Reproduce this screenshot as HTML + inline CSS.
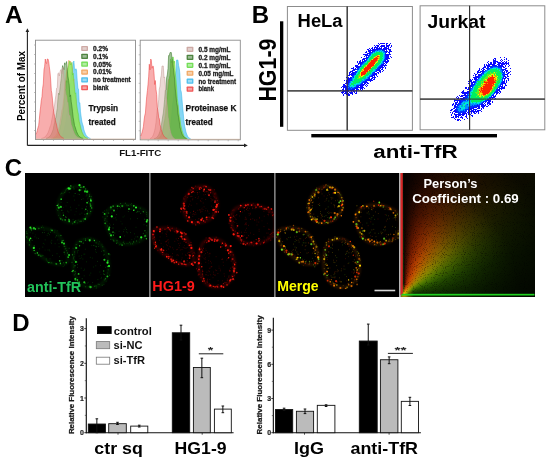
<!DOCTYPE html>
<html><head><meta charset="utf-8"><style>
html,body{margin:0;padding:0;background:#fff;}
body{width:550px;height:461px;overflow:hidden;position:relative;}
svg{position:absolute;left:0;top:0;font-family:"Liberation Sans", Arial, sans-serif;filter:blur(0.4px);}
</style></head><body>
<svg width="550" height="461" viewBox="0 0 550 461">
<defs><filter id="soft" x="0" y="0" width="1" height="1"><feGaussianBlur stdDeviation="0.35"/></filter><filter id="haze" x="-0.2" y="-0.2" width="1.4" height="1.4"><feGaussianBlur stdDeviation="1.2"/></filter><filter id="grain" x="0" y="0" width="1" height="1"><feTurbulence type="fractalNoise" baseFrequency="1.1" numOctaves="1" seed="4" result="n"/><feColorMatrix in="n" type="matrix" values="0 0 0 0 0  0 0 0 0 0  0 0 0 0 0  0 0 0 -1.8 0.85" result="m"/><feGaussianBlur in="m" stdDeviation="0.5"/><feComposite operator="in" in2="SourceGraphic"/></filter></defs>
<text x="5.0" y="22.8" font-size="24.6" fill="#000" font-weight="bold" text-anchor="start">A</text>
<line x1="27.4" y1="30.5" x2="27.4" y2="145.4" stroke="#222" stroke-width="1.1"/>
<path d="M25.6,32 L27.4,28.3 L29.2,32 Z" fill="#222"/>
<line x1="27.4" y1="145.4" x2="245.5" y2="145.4" stroke="#222" stroke-width="1.1"/>
<path d="M244,143.6 L247.8,145.4 L244,147.2 Z" fill="#222"/>
<text transform="translate(24.7,86) rotate(-90)" font-size="10.2" fill="#000" font-weight="bold" text-anchor="middle" textLength="70" lengthAdjust="spacingAndGlyphs">Percent of Max</text>
<text x="119.2" y="155.6" font-size="9" fill="#111" font-weight="bold" text-anchor="start" textLength="42" lengthAdjust="spacingAndGlyphs">FL1-FITC</text>
<rect x="35.5" y="40.2" width="100" height="99.3" fill="#fff" stroke="#8c8c8c" stroke-width="0.9"/>
<line x1="34.0" y1="130.5" x2="35.5" y2="130.5" stroke="#999" stroke-width="0.6"/>
<line x1="34.0" y1="121.0" x2="35.5" y2="121.0" stroke="#999" stroke-width="0.6"/>
<line x1="34.0" y1="111.5" x2="35.5" y2="111.5" stroke="#999" stroke-width="0.6"/>
<line x1="34.0" y1="102.0" x2="35.5" y2="102.0" stroke="#999" stroke-width="0.6"/>
<line x1="34.0" y1="92.5" x2="35.5" y2="92.5" stroke="#999" stroke-width="0.6"/>
<line x1="34.0" y1="83.0" x2="35.5" y2="83.0" stroke="#999" stroke-width="0.6"/>
<line x1="34.0" y1="73.5" x2="35.5" y2="73.5" stroke="#999" stroke-width="0.6"/>
<line x1="34.0" y1="64.0" x2="35.5" y2="64.0" stroke="#999" stroke-width="0.6"/>
<line x1="34.0" y1="54.5" x2="35.5" y2="54.5" stroke="#999" stroke-width="0.6"/>
<line x1="34.0" y1="45.0" x2="35.5" y2="45.0" stroke="#999" stroke-width="0.6"/>
<line x1="43.5" y1="139.5" x2="43.5" y2="141.0" stroke="#999" stroke-width="0.6"/>
<line x1="53.5" y1="139.5" x2="53.5" y2="141.0" stroke="#999" stroke-width="0.6"/>
<line x1="63.5" y1="139.5" x2="63.5" y2="141.0" stroke="#999" stroke-width="0.6"/>
<line x1="73.5" y1="139.5" x2="73.5" y2="141.0" stroke="#999" stroke-width="0.6"/>
<line x1="83.5" y1="139.5" x2="83.5" y2="141.0" stroke="#999" stroke-width="0.6"/>
<line x1="93.5" y1="139.5" x2="93.5" y2="141.0" stroke="#999" stroke-width="0.6"/>
<line x1="103.5" y1="139.5" x2="103.5" y2="141.0" stroke="#999" stroke-width="0.6"/>
<line x1="113.5" y1="139.5" x2="113.5" y2="141.0" stroke="#999" stroke-width="0.6"/>
<line x1="123.5" y1="139.5" x2="123.5" y2="141.0" stroke="#999" stroke-width="0.6"/>
<line x1="133.5" y1="139.5" x2="133.5" y2="141.0" stroke="#999" stroke-width="0.6"/>
<path d="M58.6,138.7 L58.6,138.2 L59.3,138.0 L59.9,137.7 L60.6,137.2 L61.2,136.5 L61.9,135.5 L62.6,134.2 L63.2,132.5 L63.9,130.3 L64.6,127.6 L65.2,124.7 L65.9,121.4 L66.6,114.7 L67.2,112.4 L67.9,103.6 L68.6,98.5 L69.2,94.9 L69.9,83.8 L70.6,83.1 L71.2,72.4 L71.9,72.9 L72.5,69.3 L73.2,62.4 L73.9,61.0 L74.5,68.8 L75.2,70.2 L75.9,68.7 L76.5,69.8 L77.2,80.3 L77.9,88.3 L78.5,89.0 L79.2,103.0 L79.9,102.8 L80.5,111.8 L81.2,117.1 L81.8,121.2 L82.5,124.1 L83.2,126.0 L83.8,129.4 L84.5,131.6 L85.2,133.3 L85.8,134.7 L86.5,135.8 L87.2,136.6 L87.8,137.2 L88.5,137.6 L89.2,138.0 L89.8,138.2 L90.5,138.4 L90.5,138.7 Z" fill="#5cc8f0" fill-opacity="0.75"/>
<path d="M58.6,138.2 L59.3,138.0 L59.9,137.7 L60.6,137.2 L61.2,136.5 L61.9,135.5 L62.6,134.2 L63.2,132.5 L63.9,130.3 L64.6,127.6 L65.2,124.7 L65.9,121.4 L66.6,114.7 L67.2,112.4 L67.9,103.6 L68.6,98.5 L69.2,94.9 L69.9,83.8 L70.6,83.1 L71.2,72.4 L71.9,72.9 L72.5,69.3 L73.2,62.4 L73.9,61.0 L74.5,68.8 L75.2,70.2 L75.9,68.7 L76.5,69.8 L77.2,80.3 L77.9,88.3 L78.5,89.0 L79.2,103.0 L79.9,102.8 L80.5,111.8 L81.2,117.1 L81.8,121.2 L82.5,124.1 L83.2,126.0 L83.8,129.4 L84.5,131.6 L85.2,133.3 L85.8,134.7 L86.5,135.8 L87.2,136.6 L87.8,137.2 L88.5,137.6 L89.2,138.0 L89.8,138.2 L90.5,138.4" fill="none" stroke="#2fb4ea" stroke-width="0.6" stroke-opacity="0.85"/>
<path d="M51.3,138.7 L51.3,138.4 L51.9,138.2 L52.6,138.0 L53.3,137.7 L53.9,137.3 L54.6,136.8 L55.3,136.1 L55.9,135.2 L56.6,134.0 L57.3,132.5 L57.9,130.8 L58.6,128.6 L59.3,126.8 L59.9,122.6 L60.6,118.7 L61.2,115.8 L61.9,110.4 L62.6,108.5 L63.2,103.7 L63.9,97.3 L64.6,87.1 L65.2,84.0 L65.9,80.0 L66.6,71.5 L67.2,68.9 L67.9,67.6 L68.6,60.5 L69.2,60.5 L69.9,64.8 L70.6,61.2 L71.2,64.7 L71.9,63.6 L72.5,70.4 L73.2,81.1 L73.9,78.9 L74.5,93.6 L75.2,96.3 L75.9,99.2 L76.5,108.7 L77.2,111.5 L77.9,118.0 L78.5,119.3 L79.2,122.6 L79.9,126.2 L80.5,128.9 L81.2,131.1 L81.8,132.8 L82.5,134.2 L83.2,135.3 L83.8,136.2 L84.5,136.8 L85.2,137.4 L85.8,137.7 L86.5,138.0 L87.2,138.2 L87.8,138.4 L87.8,138.7 Z" fill="#f6b070" fill-opacity="0.55"/>
<path d="M51.3,138.4 L51.9,138.2 L52.6,138.0 L53.3,137.7 L53.9,137.3 L54.6,136.8 L55.3,136.1 L55.9,135.2 L56.6,134.0 L57.3,132.5 L57.9,130.8 L58.6,128.6 L59.3,126.8 L59.9,122.6 L60.6,118.7 L61.2,115.8 L61.9,110.4 L62.6,108.5 L63.2,103.7 L63.9,97.3 L64.6,87.1 L65.2,84.0 L65.9,80.0 L66.6,71.5 L67.2,68.9 L67.9,67.6 L68.6,60.5 L69.2,60.5 L69.9,64.8 L70.6,61.2 L71.2,64.7 L71.9,63.6 L72.5,70.4 L73.2,81.1 L73.9,78.9 L74.5,93.6 L75.2,96.3 L75.9,99.2 L76.5,108.7 L77.2,111.5 L77.9,118.0 L78.5,119.3 L79.2,122.6 L79.9,126.2 L80.5,128.9 L81.2,131.1 L81.8,132.8 L82.5,134.2 L83.2,135.3 L83.8,136.2 L84.5,136.8 L85.2,137.4 L85.8,137.7 L86.5,138.0 L87.2,138.2 L87.8,138.4" fill="none" stroke="#f09a4a" stroke-width="0.6" stroke-opacity="0.85"/>
<path d="M53.3,138.7 L53.3,138.3 L53.9,138.1 L54.6,137.8 L55.3,137.5 L55.9,137.0 L56.6,136.3 L57.3,135.5 L57.9,134.4 L58.6,133.0 L59.3,131.2 L59.9,129.0 L60.6,125.5 L61.2,123.8 L61.9,118.9 L62.6,115.0 L63.2,110.3 L63.9,105.9 L64.6,97.4 L65.2,90.3 L65.9,88.6 L66.6,80.6 L67.2,82.4 L67.9,69.2 L68.6,65.6 L69.2,61.5 L69.9,61.5 L70.6,64.8 L71.2,64.2 L71.9,62.3 L72.5,75.0 L73.2,73.2 L73.9,81.8 L74.5,87.6 L75.2,93.6 L75.9,92.8 L76.5,103.7 L77.2,108.0 L77.9,112.1 L78.5,114.4 L79.2,121.7 L79.9,123.9 L80.5,126.7 L81.2,129.4 L81.8,131.5 L82.5,133.2 L83.2,134.6 L83.8,135.6 L84.5,136.5 L85.2,137.1 L85.8,137.5 L86.5,137.9 L87.2,138.1 L87.8,138.3 L87.8,138.7 Z" fill="#7cf050" fill-opacity="0.7"/>
<path d="M53.3,138.3 L53.9,138.1 L54.6,137.8 L55.3,137.5 L55.9,137.0 L56.6,136.3 L57.3,135.5 L57.9,134.4 L58.6,133.0 L59.3,131.2 L59.9,129.0 L60.6,125.5 L61.2,123.8 L61.9,118.9 L62.6,115.0 L63.2,110.3 L63.9,105.9 L64.6,97.4 L65.2,90.3 L65.9,88.6 L66.6,80.6 L67.2,82.4 L67.9,69.2 L68.6,65.6 L69.2,61.5 L69.9,61.5 L70.6,64.8 L71.2,64.2 L71.9,62.3 L72.5,75.0 L73.2,73.2 L73.9,81.8 L74.5,87.6 L75.2,93.6 L75.9,92.8 L76.5,103.7 L77.2,108.0 L77.9,112.1 L78.5,114.4 L79.2,121.7 L79.9,123.9 L80.5,126.7 L81.2,129.4 L81.8,131.5 L82.5,133.2 L83.2,134.6 L83.8,135.6 L84.5,136.5 L85.2,137.1 L85.8,137.5 L86.5,137.9 L87.2,138.1 L87.8,138.3" fill="none" stroke="#5ad83a" stroke-width="0.6" stroke-opacity="0.85"/>
<path d="M46.0,138.7 L46.0,138.3 L46.6,138.2 L47.3,138.0 L48.0,137.7 L48.6,137.3 L49.3,136.8 L50.0,136.1 L50.6,135.3 L51.3,134.2 L51.9,132.8 L52.6,131.1 L53.3,129.1 L53.9,125.7 L54.6,122.7 L55.3,119.0 L55.9,117.5 L56.6,112.6 L57.3,108.3 L57.9,99.5 L58.6,93.1 L59.3,94.7 L59.9,89.3 L60.6,83.6 L61.2,78.7 L61.9,71.0 L62.6,65.6 L63.2,67.5 L63.9,69.7 L64.6,62.8 L65.2,64.4 L65.9,63.5 L66.6,61.5 L67.2,69.1 L67.9,76.2 L68.6,80.2 L69.2,85.2 L69.9,96.7 L70.6,94.9 L71.2,101.5 L71.9,106.2 L72.5,111.6 L73.2,117.8 L73.9,121.4 L74.5,125.5 L75.2,127.2 L75.9,129.5 L76.5,131.5 L77.2,133.1 L77.9,134.4 L78.5,135.5 L79.2,136.3 L79.9,136.9 L80.5,137.4 L81.2,137.8 L81.8,138.0 L82.5,138.2 L83.2,138.4 L83.2,138.7 Z" fill="#4f8f3a" fill-opacity="0.5"/>
<path d="M46.0,138.3 L46.6,138.2 L47.3,138.0 L48.0,137.7 L48.6,137.3 L49.3,136.8 L50.0,136.1 L50.6,135.3 L51.3,134.2 L51.9,132.8 L52.6,131.1 L53.3,129.1 L53.9,125.7 L54.6,122.7 L55.3,119.0 L55.9,117.5 L56.6,112.6 L57.3,108.3 L57.9,99.5 L58.6,93.1 L59.3,94.7 L59.9,89.3 L60.6,83.6 L61.2,78.7 L61.9,71.0 L62.6,65.6 L63.2,67.5 L63.9,69.7 L64.6,62.8 L65.2,64.4 L65.9,63.5 L66.6,61.5 L67.2,69.1 L67.9,76.2 L68.6,80.2 L69.2,85.2 L69.9,96.7 L70.6,94.9 L71.2,101.5 L71.9,106.2 L72.5,111.6 L73.2,117.8 L73.9,121.4 L74.5,125.5 L75.2,127.2 L75.9,129.5 L76.5,131.5 L77.2,133.1 L77.9,134.4 L78.5,135.5 L79.2,136.3 L79.9,136.9 L80.5,137.4 L81.2,137.8 L81.8,138.0 L82.5,138.2 L83.2,138.4" fill="none" stroke="#2f6f1e" stroke-width="0.6" stroke-opacity="0.85"/>
<path d="M41.3,138.7 L41.3,138.4 L42.0,138.3 L42.6,138.1 L43.3,137.9 L44.0,137.6 L44.6,137.2 L45.3,136.6 L46.0,136.0 L46.6,135.1 L47.3,134.1 L48.0,132.8 L48.6,131.2 L49.3,129.4 L50.0,126.8 L50.6,125.8 L51.3,123.1 L51.9,119.4 L52.6,116.1 L53.3,111.3 L53.9,108.9 L54.6,105.0 L55.3,99.4 L55.9,95.4 L56.6,88.2 L57.3,87.6 L57.9,73.5 L58.6,72.9 L59.3,76.0 L59.9,72.5 L60.6,69.9 L61.2,69.5 L61.9,73.9 L62.6,67.5 L63.2,67.5 L63.9,77.5 L64.6,81.3 L65.2,90.0 L65.9,94.2 L66.6,96.6 L67.2,101.9 L67.9,102.6 L68.6,111.3 L69.2,115.9 L69.9,115.4 L70.6,120.7 L71.2,124.9 L71.9,126.4 L72.5,128.8 L73.2,130.8 L73.9,132.4 L74.5,133.8 L75.2,134.9 L75.9,135.8 L76.5,136.5 L77.2,137.0 L77.9,137.5 L78.5,137.8 L79.2,138.0 L79.9,138.2 L80.5,138.4 L80.5,138.7 Z" fill="#d8b4ae" fill-opacity="0.5"/>
<path d="M41.3,138.4 L42.0,138.3 L42.6,138.1 L43.3,137.9 L44.0,137.6 L44.6,137.2 L45.3,136.6 L46.0,136.0 L46.6,135.1 L47.3,134.1 L48.0,132.8 L48.6,131.2 L49.3,129.4 L50.0,126.8 L50.6,125.8 L51.3,123.1 L51.9,119.4 L52.6,116.1 L53.3,111.3 L53.9,108.9 L54.6,105.0 L55.3,99.4 L55.9,95.4 L56.6,88.2 L57.3,87.6 L57.9,73.5 L58.6,72.9 L59.3,76.0 L59.9,72.5 L60.6,69.9 L61.2,69.5 L61.9,73.9 L62.6,67.5 L63.2,67.5 L63.9,77.5 L64.6,81.3 L65.2,90.0 L65.9,94.2 L66.6,96.6 L67.2,101.9 L67.9,102.6 L68.6,111.3 L69.2,115.9 L69.9,115.4 L70.6,120.7 L71.2,124.9 L71.9,126.4 L72.5,128.8 L73.2,130.8 L73.9,132.4 L74.5,133.8 L75.2,134.9 L75.9,135.8 L76.5,136.5 L77.2,137.0 L77.9,137.5 L78.5,137.8 L79.2,138.0 L79.9,138.2 L80.5,138.4" fill="none" stroke="#c49a94" stroke-width="0.6" stroke-opacity="0.85"/>
<path d="M36.0,138.7 L36.0,134.4 L36.7,132.7 L37.3,130.4 L38.0,127.5 L38.7,125.3 L39.3,119.4 L40.0,111.9 L40.7,106.1 L41.3,100.2 L42.0,96.7 L42.6,88.6 L43.3,83.9 L44.0,69.6 L44.6,66.8 L45.3,59.0 L46.0,62.5 L46.6,63.5 L47.3,59.0 L48.0,59.0 L48.6,61.2 L49.3,66.7 L50.0,72.1 L50.6,79.1 L51.3,90.6 L51.9,93.7 L52.6,100.9 L53.3,108.5 L53.9,113.2 L54.6,116.3 L55.3,120.4 L55.9,122.5 L56.6,125.1 L57.3,128.9 L57.9,131.1 L58.6,132.9 L59.3,134.3 L59.9,135.4 L60.6,136.3 L61.2,136.9 L61.9,137.4 L62.6,137.8 L63.2,138.1 L63.9,138.3 L63.9,138.7 Z" fill="#f26a6a" fill-opacity="0.55"/>
<path d="M36.0,134.4 L36.7,132.7 L37.3,130.4 L38.0,127.5 L38.7,125.3 L39.3,119.4 L40.0,111.9 L40.7,106.1 L41.3,100.2 L42.0,96.7 L42.6,88.6 L43.3,83.9 L44.0,69.6 L44.6,66.8 L45.3,59.0 L46.0,62.5 L46.6,63.5 L47.3,59.0 L48.0,59.0 L48.6,61.2 L49.3,66.7 L50.0,72.1 L50.6,79.1 L51.3,90.6 L51.9,93.7 L52.6,100.9 L53.3,108.5 L53.9,113.2 L54.6,116.3 L55.3,120.4 L55.9,122.5 L56.6,125.1 L57.3,128.9 L57.9,131.1 L58.6,132.9 L59.3,134.3 L59.9,135.4 L60.6,136.3 L61.2,136.9 L61.9,137.4 L62.6,137.8 L63.2,138.1 L63.9,138.3" fill="none" stroke="#ee3b3b" stroke-width="0.6" stroke-opacity="0.85"/>
<line x1="36.0" y1="139.0" x2="135.0" y2="139.0" stroke="#c8a890" stroke-width="0.6"/>
<rect x="81.2" y="45.9" width="6.8" height="5.2" fill="#c49a94" rx="0.8" fill-opacity="0.85"/>
<rect x="82.5" y="47.2" width="4.2" height="2.6" fill="#fff" fill-opacity="0.45"/>
<text x="93.10000000000001" y="50.8" font-size="6.3" fill="#1e1e1e" font-weight="bold" text-anchor="start" textLength="15" lengthAdjust="spacingAndGlyphs" stroke="#1e1e1e" stroke-width="0.3">0.2%</text>
<rect x="81.2" y="53.75" width="6.8" height="5.2" fill="#2f6f1e" rx="0.8" fill-opacity="0.85"/>
<rect x="82.5" y="55.050000000000004" width="4.2" height="2.6" fill="#fff" fill-opacity="0.45"/>
<text x="93.10000000000001" y="58.65" font-size="6.3" fill="#1e1e1e" font-weight="bold" text-anchor="start" textLength="15" lengthAdjust="spacingAndGlyphs" stroke="#1e1e1e" stroke-width="0.3">0.1%</text>
<rect x="81.2" y="61.6" width="6.8" height="5.2" fill="#5ad83a" rx="0.8" fill-opacity="0.85"/>
<rect x="82.5" y="62.900000000000006" width="4.2" height="2.6" fill="#fff" fill-opacity="0.45"/>
<text x="93.10000000000001" y="66.5" font-size="6.3" fill="#1e1e1e" font-weight="bold" text-anchor="start" textLength="18.5" lengthAdjust="spacingAndGlyphs" stroke="#1e1e1e" stroke-width="0.3">0.05%</text>
<rect x="81.2" y="69.45" width="6.8" height="5.2" fill="#f09a4a" rx="0.8" fill-opacity="0.85"/>
<rect x="82.5" y="70.75" width="4.2" height="2.6" fill="#fff" fill-opacity="0.45"/>
<text x="93.10000000000001" y="74.35" font-size="6.3" fill="#1e1e1e" font-weight="bold" text-anchor="start" textLength="18.5" lengthAdjust="spacingAndGlyphs" stroke="#1e1e1e" stroke-width="0.3">0.01%</text>
<rect x="81.2" y="77.30000000000001" width="6.8" height="5.2" fill="#2fb4ea" rx="0.8" fill-opacity="0.85"/>
<rect x="82.5" y="78.60000000000001" width="4.2" height="2.6" fill="#fff" fill-opacity="0.45"/>
<text x="93.10000000000001" y="82.2" font-size="6.3" fill="#1e1e1e" font-weight="bold" text-anchor="start" textLength="37.5" lengthAdjust="spacingAndGlyphs" stroke="#1e1e1e" stroke-width="0.3">no treatment</text>
<rect x="81.2" y="85.15" width="6.8" height="5.2" fill="#ee3b3b" rx="0.8" fill-opacity="0.85"/>
<rect x="82.5" y="86.45" width="4.2" height="2.6" fill="#fff" fill-opacity="0.45"/>
<text x="93.10000000000001" y="90.05" font-size="6.3" fill="#1e1e1e" font-weight="bold" text-anchor="start" textLength="15.5" lengthAdjust="spacingAndGlyphs" stroke="#1e1e1e" stroke-width="0.3">blank</text>
<text x="88.6" y="111.0" font-size="8.9" fill="#111" font-weight="bold" text-anchor="start" textLength="29.5" lengthAdjust="spacingAndGlyphs" stroke="#111" stroke-width="0.25">Trypsin</text>
<text x="88.6" y="125.1" font-size="8.9" fill="#111" font-weight="bold" text-anchor="start" textLength="27" lengthAdjust="spacingAndGlyphs" stroke="#111" stroke-width="0.25">treated</text>
<rect x="140.2" y="40.2" width="100.1" height="99.6" fill="#fff" stroke="#8c8c8c" stroke-width="0.9"/>
<line x1="138.7" y1="130.8" x2="140.2" y2="130.8" stroke="#999" stroke-width="0.6"/>
<line x1="138.7" y1="121.30000000000001" x2="140.2" y2="121.30000000000001" stroke="#999" stroke-width="0.6"/>
<line x1="138.7" y1="111.80000000000001" x2="140.2" y2="111.80000000000001" stroke="#999" stroke-width="0.6"/>
<line x1="138.7" y1="102.30000000000001" x2="140.2" y2="102.30000000000001" stroke="#999" stroke-width="0.6"/>
<line x1="138.7" y1="92.80000000000001" x2="140.2" y2="92.80000000000001" stroke="#999" stroke-width="0.6"/>
<line x1="138.7" y1="83.30000000000001" x2="140.2" y2="83.30000000000001" stroke="#999" stroke-width="0.6"/>
<line x1="138.7" y1="73.80000000000001" x2="140.2" y2="73.80000000000001" stroke="#999" stroke-width="0.6"/>
<line x1="138.7" y1="64.30000000000001" x2="140.2" y2="64.30000000000001" stroke="#999" stroke-width="0.6"/>
<line x1="138.7" y1="54.80000000000001" x2="140.2" y2="54.80000000000001" stroke="#999" stroke-width="0.6"/>
<line x1="138.7" y1="45.30000000000001" x2="140.2" y2="45.30000000000001" stroke="#999" stroke-width="0.6"/>
<line x1="148.2" y1="139.8" x2="148.2" y2="141.3" stroke="#999" stroke-width="0.6"/>
<line x1="158.2" y1="139.8" x2="158.2" y2="141.3" stroke="#999" stroke-width="0.6"/>
<line x1="168.2" y1="139.8" x2="168.2" y2="141.3" stroke="#999" stroke-width="0.6"/>
<line x1="178.2" y1="139.8" x2="178.2" y2="141.3" stroke="#999" stroke-width="0.6"/>
<line x1="188.2" y1="139.8" x2="188.2" y2="141.3" stroke="#999" stroke-width="0.6"/>
<line x1="198.2" y1="139.8" x2="198.2" y2="141.3" stroke="#999" stroke-width="0.6"/>
<line x1="208.2" y1="139.8" x2="208.2" y2="141.3" stroke="#999" stroke-width="0.6"/>
<line x1="218.2" y1="139.8" x2="218.2" y2="141.3" stroke="#999" stroke-width="0.6"/>
<line x1="228.2" y1="139.8" x2="228.2" y2="141.3" stroke="#999" stroke-width="0.6"/>
<line x1="238.2" y1="139.8" x2="238.2" y2="141.3" stroke="#999" stroke-width="0.6"/>
<path d="M165.3,139.0 L165.3,138.7 L166.0,138.4 L166.6,138.0 L167.3,137.3 L168.0,136.3 L168.6,134.8 L169.3,132.6 L170.0,129.6 L170.6,125.8 L171.3,119.0 L172.0,112.0 L172.6,104.2 L173.3,99.9 L174.0,92.8 L174.6,84.5 L175.3,77.2 L176.0,70.8 L176.6,60.0 L177.3,60.0 L177.9,60.0 L178.6,65.4 L179.3,68.6 L179.9,74.0 L180.6,89.8 L181.3,91.9 L181.9,98.1 L182.6,106.7 L183.3,113.8 L183.9,120.6 L184.6,126.1 L185.3,128.9 L185.9,131.8 L186.6,134.0 L187.3,135.6 L187.9,136.8 L188.6,137.5 L189.3,138.1 L189.9,138.4 L190.6,138.7 L190.6,139.0 Z" fill="#5cc8f0" fill-opacity="0.75"/>
<path d="M165.3,138.7 L166.0,138.4 L166.6,138.0 L167.3,137.3 L168.0,136.3 L168.6,134.8 L169.3,132.6 L170.0,129.6 L170.6,125.8 L171.3,119.0 L172.0,112.0 L172.6,104.2 L173.3,99.9 L174.0,92.8 L174.6,84.5 L175.3,77.2 L176.0,70.8 L176.6,60.0 L177.3,60.0 L177.9,60.0 L178.6,65.4 L179.3,68.6 L179.9,74.0 L180.6,89.8 L181.3,91.9 L181.9,98.1 L182.6,106.7 L183.3,113.8 L183.9,120.6 L184.6,126.1 L185.3,128.9 L185.9,131.8 L186.6,134.0 L187.3,135.6 L187.9,136.8 L188.6,137.5 L189.3,138.1 L189.9,138.4 L190.6,138.7" fill="none" stroke="#2fb4ea" stroke-width="0.6" stroke-opacity="0.85"/>
<path d="M157.3,139.0 L157.3,138.5 L158.0,138.3 L158.7,137.9 L159.3,137.4 L160.0,136.7 L160.7,135.7 L161.3,134.3 L162.0,132.6 L162.6,130.3 L163.3,127.4 L164.0,122.9 L164.6,120.2 L165.3,113.0 L166.0,106.0 L166.6,103.3 L167.3,96.7 L168.0,84.4 L168.6,79.5 L169.3,79.7 L170.0,75.0 L170.6,70.5 L171.3,61.0 L172.0,61.0 L172.6,67.4 L173.3,61.0 L174.0,62.6 L174.6,72.8 L175.3,82.9 L176.0,87.5 L176.6,98.2 L177.3,105.4 L177.9,105.2 L178.6,113.1 L179.3,118.8 L179.9,122.0 L180.6,127.1 L181.3,129.9 L181.9,132.3 L182.6,134.1 L183.3,135.5 L183.9,136.6 L184.6,137.3 L185.3,137.9 L185.9,138.3 L186.6,138.5 L187.3,138.7 L187.3,139.0 Z" fill="#f6b070" fill-opacity="0.55"/>
<path d="M157.3,138.5 L158.0,138.3 L158.7,137.9 L159.3,137.4 L160.0,136.7 L160.7,135.7 L161.3,134.3 L162.0,132.6 L162.6,130.3 L163.3,127.4 L164.0,122.9 L164.6,120.2 L165.3,113.0 L166.0,106.0 L166.6,103.3 L167.3,96.7 L168.0,84.4 L168.6,79.5 L169.3,79.7 L170.0,75.0 L170.6,70.5 L171.3,61.0 L172.0,61.0 L172.6,67.4 L173.3,61.0 L174.0,62.6 L174.6,72.8 L175.3,82.9 L176.0,87.5 L176.6,98.2 L177.3,105.4 L177.9,105.2 L178.6,113.1 L179.3,118.8 L179.9,122.0 L180.6,127.1 L181.3,129.9 L181.9,132.3 L182.6,134.1 L183.3,135.5 L183.9,136.6 L184.6,137.3 L185.3,137.9 L185.9,138.3 L186.6,138.5 L187.3,138.7" fill="none" stroke="#f09a4a" stroke-width="0.6" stroke-opacity="0.85"/>
<path d="M157.3,139.0 L157.3,138.7 L158.0,138.5 L158.7,138.2 L159.3,137.8 L160.0,137.2 L160.7,136.3 L161.3,135.2 L162.0,133.7 L162.6,131.7 L163.3,129.1 L164.0,124.9 L164.6,120.9 L165.3,118.5 L166.0,113.2 L166.6,107.1 L167.3,101.0 L168.0,91.0 L168.6,87.1 L169.3,78.4 L170.0,75.8 L170.6,58.9 L171.3,62.9 L172.0,58.5 L172.6,57.0 L173.3,57.0 L174.0,63.3 L174.6,61.0 L175.3,73.1 L176.0,79.6 L176.6,87.0 L177.3,98.8 L177.9,102.0 L178.6,110.0 L179.3,116.4 L179.9,117.9 L180.6,124.5 L181.3,127.2 L181.9,130.1 L182.6,132.5 L183.3,134.3 L183.9,135.7 L184.6,136.7 L185.3,137.4 L185.9,137.9 L186.6,138.3 L187.3,138.6 L187.3,139.0 Z" fill="#7cf050" fill-opacity="0.7"/>
<path d="M157.3,138.7 L158.0,138.5 L158.7,138.2 L159.3,137.8 L160.0,137.2 L160.7,136.3 L161.3,135.2 L162.0,133.7 L162.6,131.7 L163.3,129.1 L164.0,124.9 L164.6,120.9 L165.3,118.5 L166.0,113.2 L166.6,107.1 L167.3,101.0 L168.0,91.0 L168.6,87.1 L169.3,78.4 L170.0,75.8 L170.6,58.9 L171.3,62.9 L172.0,58.5 L172.6,57.0 L173.3,57.0 L174.0,63.3 L174.6,61.0 L175.3,73.1 L176.0,79.6 L176.6,87.0 L177.3,98.8 L177.9,102.0 L178.6,110.0 L179.3,116.4 L179.9,117.9 L180.6,124.5 L181.3,127.2 L181.9,130.1 L182.6,132.5 L183.3,134.3 L183.9,135.7 L184.6,136.7 L185.3,137.4 L185.9,137.9 L186.6,138.3 L187.3,138.6" fill="none" stroke="#5ad83a" stroke-width="0.6" stroke-opacity="0.85"/>
<path d="M154.0,139.0 L154.0,138.7 L154.7,138.5 L155.3,138.3 L156.0,138.0 L156.7,137.5 L157.3,136.8 L158.0,135.9 L158.7,134.8 L159.3,133.2 L160.0,131.2 L160.7,128.7 L161.3,125.6 L162.0,121.0 L162.6,117.0 L163.3,113.0 L164.0,106.1 L164.6,99.4 L165.3,90.3 L166.0,89.9 L166.6,77.8 L167.3,75.0 L168.0,68.6 L168.6,55.6 L169.3,55.7 L170.0,52.5 L170.6,52.5 L171.3,52.5 L172.0,58.2 L172.6,60.2 L173.3,67.6 L174.0,74.1 L174.6,79.1 L175.3,89.0 L176.0,95.3 L176.6,102.5 L177.3,105.9 L177.9,113.2 L178.6,117.6 L179.3,121.9 L179.9,126.8 L180.6,129.7 L181.3,132.0 L181.9,133.9 L182.6,135.3 L183.3,136.3 L183.9,137.1 L184.6,137.7 L185.3,138.1 L185.9,138.4 L186.6,138.6 L186.6,139.0 Z" fill="#4f8f3a" fill-opacity="0.55"/>
<path d="M154.0,138.7 L154.7,138.5 L155.3,138.3 L156.0,138.0 L156.7,137.5 L157.3,136.8 L158.0,135.9 L158.7,134.8 L159.3,133.2 L160.0,131.2 L160.7,128.7 L161.3,125.6 L162.0,121.0 L162.6,117.0 L163.3,113.0 L164.0,106.1 L164.6,99.4 L165.3,90.3 L166.0,89.9 L166.6,77.8 L167.3,75.0 L168.0,68.6 L168.6,55.6 L169.3,55.7 L170.0,52.5 L170.6,52.5 L171.3,52.5 L172.0,58.2 L172.6,60.2 L173.3,67.6 L174.0,74.1 L174.6,79.1 L175.3,89.0 L176.0,95.3 L176.6,102.5 L177.3,105.9 L177.9,113.2 L178.6,117.6 L179.3,121.9 L179.9,126.8 L180.6,129.7 L181.3,132.0 L181.9,133.9 L182.6,135.3 L183.3,136.3 L183.9,137.1 L184.6,137.7 L185.3,138.1 L185.9,138.4 L186.6,138.6" fill="none" stroke="#2f6f1e" stroke-width="0.6" stroke-opacity="0.85"/>
<path d="M150.0,139.0 L150.0,138.6 L150.7,138.3 L151.3,137.9 L152.0,137.3 L152.7,136.3 L153.3,134.9 L154.0,133.0 L154.7,130.4 L155.3,127.5 L156.0,122.4 L156.7,115.4 L157.3,109.1 L158.0,106.5 L158.7,99.6 L159.3,89.2 L160.0,86.2 L160.7,78.0 L161.3,75.5 L162.0,66.0 L162.6,66.0 L163.3,66.0 L164.0,77.8 L164.6,76.9 L165.3,85.0 L166.0,97.6 L166.6,99.3 L167.3,106.5 L168.0,117.1 L168.6,119.7 L169.3,126.2 L170.0,129.6 L170.6,132.4 L171.3,134.5 L172.0,136.0 L172.6,137.1 L173.3,137.8 L174.0,138.3 L174.6,138.6 L174.6,139.0 Z" fill="#d8b4ae" fill-opacity="0.5"/>
<path d="M150.0,138.6 L150.7,138.3 L151.3,137.9 L152.0,137.3 L152.7,136.3 L153.3,134.9 L154.0,133.0 L154.7,130.4 L155.3,127.5 L156.0,122.4 L156.7,115.4 L157.3,109.1 L158.0,106.5 L158.7,99.6 L159.3,89.2 L160.0,86.2 L160.7,78.0 L161.3,75.5 L162.0,66.0 L162.6,66.0 L163.3,66.0 L164.0,77.8 L164.6,76.9 L165.3,85.0 L166.0,97.6 L166.6,99.3 L167.3,106.5 L168.0,117.1 L168.6,119.7 L169.3,126.2 L170.0,129.6 L170.6,132.4 L171.3,134.5 L172.0,136.0 L172.6,137.1 L173.3,137.8 L174.0,138.3 L174.6,138.6" fill="none" stroke="#c49a94" stroke-width="0.6" stroke-opacity="0.85"/>
<path d="M140.7,139.0 L140.7,136.0 L141.4,134.5 L142.0,132.6 L142.7,130.0 L143.4,126.7 L144.0,120.8 L144.7,115.8 L145.4,113.1 L146.0,104.9 L146.7,96.8 L147.4,90.6 L148.0,84.7 L148.7,76.2 L149.3,64.2 L150.0,69.9 L150.7,59.0 L151.3,60.1 L152.0,68.3 L152.7,66.3 L153.3,66.3 L154.0,73.2 L154.7,84.5 L155.3,80.5 L156.0,89.4 L156.7,94.7 L157.3,107.3 L158.0,111.6 L158.7,117.5 L159.3,118.8 L160.0,124.5 L160.7,127.0 L161.3,129.8 L162.0,132.0 L162.6,133.8 L163.3,135.1 L164.0,136.2 L164.6,137.0 L165.3,137.6 L166.0,138.0 L166.6,138.3 L167.3,138.6 L167.3,139.0 Z" fill="#f26a6a" fill-opacity="0.55"/>
<path d="M140.7,136.0 L141.4,134.5 L142.0,132.6 L142.7,130.0 L143.4,126.7 L144.0,120.8 L144.7,115.8 L145.4,113.1 L146.0,104.9 L146.7,96.8 L147.4,90.6 L148.0,84.7 L148.7,76.2 L149.3,64.2 L150.0,69.9 L150.7,59.0 L151.3,60.1 L152.0,68.3 L152.7,66.3 L153.3,66.3 L154.0,73.2 L154.7,84.5 L155.3,80.5 L156.0,89.4 L156.7,94.7 L157.3,107.3 L158.0,111.6 L158.7,117.5 L159.3,118.8 L160.0,124.5 L160.7,127.0 L161.3,129.8 L162.0,132.0 L162.6,133.8 L163.3,135.1 L164.0,136.2 L164.6,137.0 L165.3,137.6 L166.0,138.0 L166.6,138.3 L167.3,138.6" fill="none" stroke="#ee3b3b" stroke-width="0.6" stroke-opacity="0.85"/>
<line x1="140.7" y1="139.3" x2="239.79999999999998" y2="139.3" stroke="#c8a890" stroke-width="0.6"/>
<rect x="186.60000000000002" y="46.8" width="6.8" height="5.2" fill="#c49a94" rx="0.8" fill-opacity="0.85"/>
<rect x="187.9" y="48.1" width="4.2" height="2.6" fill="#fff" fill-opacity="0.45"/>
<text x="198.5" y="51.699999999999996" font-size="6.3" fill="#1e1e1e" font-weight="bold" text-anchor="start" textLength="32" lengthAdjust="spacingAndGlyphs" stroke="#1e1e1e" stroke-width="0.3">0.5 mg/mL</text>
<rect x="186.60000000000002" y="54.75" width="6.8" height="5.2" fill="#2f6f1e" rx="0.8" fill-opacity="0.85"/>
<rect x="187.9" y="56.050000000000004" width="4.2" height="2.6" fill="#fff" fill-opacity="0.45"/>
<text x="198.5" y="59.65" font-size="6.3" fill="#1e1e1e" font-weight="bold" text-anchor="start" textLength="32" lengthAdjust="spacingAndGlyphs" stroke="#1e1e1e" stroke-width="0.3">0.2 mg/mL</text>
<rect x="186.60000000000002" y="62.699999999999996" width="6.8" height="5.2" fill="#5ad83a" rx="0.8" fill-opacity="0.85"/>
<rect x="187.9" y="64.0" width="4.2" height="2.6" fill="#fff" fill-opacity="0.45"/>
<text x="198.5" y="67.6" font-size="6.3" fill="#1e1e1e" font-weight="bold" text-anchor="start" textLength="32" lengthAdjust="spacingAndGlyphs" stroke="#1e1e1e" stroke-width="0.3">0.1 mg/mL</text>
<rect x="186.60000000000002" y="70.65" width="6.8" height="5.2" fill="#f09a4a" rx="0.8" fill-opacity="0.85"/>
<rect x="187.9" y="71.95" width="4.2" height="2.6" fill="#fff" fill-opacity="0.45"/>
<text x="198.5" y="75.55" font-size="6.3" fill="#1e1e1e" font-weight="bold" text-anchor="start" textLength="35" lengthAdjust="spacingAndGlyphs" stroke="#1e1e1e" stroke-width="0.3">0.05 mg/mL</text>
<rect x="186.60000000000002" y="78.60000000000001" width="6.8" height="5.2" fill="#2fb4ea" rx="0.8" fill-opacity="0.85"/>
<rect x="187.9" y="79.9" width="4.2" height="2.6" fill="#fff" fill-opacity="0.45"/>
<text x="198.5" y="83.5" font-size="6.3" fill="#1e1e1e" font-weight="bold" text-anchor="start" textLength="37.5" lengthAdjust="spacingAndGlyphs" stroke="#1e1e1e" stroke-width="0.3">no treatment</text>
<rect x="186.60000000000002" y="86.55000000000001" width="6.8" height="5.2" fill="#ee3b3b" rx="0.8" fill-opacity="0.85"/>
<rect x="187.9" y="87.85000000000001" width="4.2" height="2.6" fill="#fff" fill-opacity="0.45"/>
<text x="198.5" y="91.45" font-size="6.3" fill="#1e1e1e" font-weight="bold" text-anchor="start" textLength="15.5" lengthAdjust="spacingAndGlyphs" stroke="#1e1e1e" stroke-width="0.3">blank</text>
<text x="185.6" y="111.0" font-size="8.9" fill="#111" font-weight="bold" text-anchor="start" textLength="51" lengthAdjust="spacingAndGlyphs" stroke="#111" stroke-width="0.25">Proteinase K</text>
<text x="185.6" y="125.1" font-size="8.9" fill="#111" font-weight="bold" text-anchor="start" textLength="27" lengthAdjust="spacingAndGlyphs" stroke="#111" stroke-width="0.25">treated</text>
<text x="251.8" y="22.7" font-size="24" fill="#000" font-weight="bold" text-anchor="start">B</text>
<rect x="280" y="21.3" width="3.3" height="105.5" fill="#000"/>
<text transform="translate(276.2,70.1) rotate(-90)" font-size="23.5" fill="#000" font-weight="bold" text-anchor="middle" textLength="63" lengthAdjust="spacingAndGlyphs">HG1-9</text>
<rect x="311.3" y="134" width="185.7" height="3.4" fill="#000"/>
<text x="373.2" y="157.9" font-size="18" fill="#000" font-weight="bold" text-anchor="start" textLength="84.5" lengthAdjust="spacingAndGlyphs">anti-TfR</text>
<rect x="287.4" y="6.5" width="125" height="123.8" fill="#fff" stroke="#8c8c8c" stroke-width="1"/>
<line x1="347.2" y1="6.5" x2="347.2" y2="130.3" stroke="#333" stroke-width="1"/>
<line x1="287.4" y1="90.9" x2="412.4" y2="90.9" stroke="#333" stroke-width="1"/>
<text x="297.6" y="26.9" font-size="18" fill="#000" font-weight="bold" text-anchor="start" textLength="45" lengthAdjust="spacingAndGlyphs">HeLa</text>
<rect x="420.1" y="5.8" width="124.7" height="124" fill="#fff" stroke="#8c8c8c" stroke-width="1"/>
<line x1="469.6" y1="5.8" x2="469.6" y2="129.8" stroke="#333" stroke-width="1"/>
<line x1="420.1" y1="99.1" x2="544.8000000000001" y2="99.1" stroke="#333" stroke-width="1"/>
<text x="427.4" y="27.6" font-size="18" fill="#000" font-weight="bold" text-anchor="start" textLength="58" lengthAdjust="spacingAndGlyphs">Jurkat</text>
<path d="M353 69h3v1h-3zM378 69h2v1h-2zM381 69h2v1h-2zM349 72h2v1h-2zM352 72h3v1h-3zM374 72h1v1h-1zM377 72h2v1h-2zM380 72h1v1h-1zM371 76h2v1h-2zM374 76h1v1h-1zM377 76h1v1h-1zM340 90h1v1h-1zM343 90h1v1h-1zM345 90h4v1h-4zM350 90h4v1h-4zM356 90h1v1h-1zM361 90h1v1h-1zM341 92h3v1h-3zM345 92h3v1h-3zM349 92h4v1h-4zM354 92h1v1h-1zM356 92h1v1h-1zM355 66h4v1h-4zM381 66h2v1h-2zM384 66h1v1h-1zM347 79h3v1h-3zM367 79h5v1h-5zM373 79h2v1h-2zM368 50h7v1h-7zM386 50h1v1h-1zM389 50h2v1h-2zM349 73h1v1h-1zM351 73h3v1h-3zM374 73h3v1h-3zM378 73h1v1h-1zM355 65h3v1h-3zM381 65h6v1h-6zM361 57h1v1h-1zM366 57h2v1h-2zM386 57h3v1h-3zM391 57h1v1h-1zM343 88h1v1h-1zM345 88h2v1h-2zM355 88h3v1h-3zM360 88h3v1h-3zM364 88h1v1h-1zM344 80h1v1h-1zM346 80h4v1h-4zM367 80h6v1h-6zM342 89h2v1h-2zM345 89h2v1h-2zM352 89h3v1h-3zM356 89h3v1h-3zM360 89h1v1h-1zM362 89h1v1h-1zM362 59h3v1h-3zM386 59h2v1h-2zM342 86h5v1h-5zM357 86h2v1h-2zM360 86h3v1h-3zM366 86h1v1h-1zM342 91h7v1h-7zM351 91h1v1h-1zM353 91h2v1h-2zM356 91h1v1h-1zM363 54h5v1h-5zM385 54h6v1h-6zM346 82h3v1h-3zM364 82h4v1h-4zM365 52h2v1h-2zM369 52h2v1h-2zM386 52h1v1h-1zM388 52h2v1h-2zM379 44h1v1h-1zM386 44h1v1h-1zM389 44h1v1h-1zM364 56h1v1h-1zM366 56h1v1h-1zM386 56h3v1h-3zM390 56h1v1h-1zM375 46h1v1h-1zM377 46h2v1h-2zM380 46h5v1h-5zM386 46h3v1h-3zM391 46h1v1h-1zM345 83h3v1h-3zM364 83h2v1h-2zM367 83h2v1h-2zM349 74h5v1h-5zM373 74h4v1h-4zM358 63h4v1h-4zM384 63h1v1h-1zM386 63h1v1h-1zM343 84h2v1h-2zM347 84h1v1h-1zM361 84h4v1h-4zM366 84h1v1h-1zM346 81h3v1h-3zM365 81h2v1h-2zM370 81h1v1h-1zM352 70h3v1h-3zM377 70h4v1h-4zM383 70h1v1h-1zM347 78h4v1h-4zM369 78h1v1h-1zM371 78h2v1h-2zM374 78h1v1h-1zM343 94h1v1h-1zM346 94h4v1h-4zM352 94h1v1h-1zM367 49h2v1h-2zM370 49h1v1h-1zM372 49h6v1h-6zM383 49h4v1h-4zM388 49h3v1h-3zM357 62h1v1h-1zM359 62h4v1h-4zM385 62h3v1h-3zM343 85h3v1h-3zM347 85h1v1h-1zM359 85h5v1h-5zM365 85h1v1h-1zM367 85h1v1h-1zM369 48h1v1h-1zM371 48h2v1h-2zM374 48h1v1h-1zM376 48h6v1h-6zM383 48h6v1h-6zM358 64h1v1h-1zM360 64h1v1h-1zM382 64h2v1h-2zM385 64h1v1h-1zM367 53h3v1h-3zM389 53h1v1h-1zM357 61h1v1h-1zM359 61h2v1h-2zM362 61h1v1h-1zM384 61h5v1h-5zM374 45h1v1h-1zM376 45h3v1h-3zM381 45h4v1h-4zM386 45h4v1h-4zM391 45h1v1h-1zM351 68h3v1h-3zM355 68h1v1h-1zM380 68h1v1h-1zM382 68h1v1h-1zM385 68h1v1h-1zM365 55h3v1h-3zM386 55h3v1h-3zM348 75h2v1h-2zM351 75h2v1h-2zM372 75h3v1h-3zM376 75h1v1h-1zM353 67h1v1h-1zM356 67h3v1h-3zM379 67h5v1h-5zM385 67h1v1h-1zM342 93h1v1h-1zM344 93h3v1h-3zM348 93h1v1h-1zM350 93h3v1h-3zM355 93h2v1h-2zM346 77h1v1h-1zM348 77h1v1h-1zM350 77h2v1h-2zM372 77h4v1h-4zM350 71h3v1h-3zM355 71h1v1h-1zM376 71h1v1h-1zM379 71h2v1h-2zM382 71h1v1h-1zM363 58h3v1h-3zM385 58h5v1h-5zM341 87h1v1h-1zM343 87h4v1h-4zM356 87h8v1h-8zM372 47h1v1h-1zM374 47h4v1h-4zM379 47h1v1h-1zM381 47h1v1h-1zM384 47h3v1h-3zM388 47h1v1h-1zM390 47h1v1h-1zM360 60h1v1h-1zM362 60h1v1h-1zM364 60h1v1h-1zM385 60h1v1h-1zM387 60h2v1h-2zM366 51h1v1h-1zM368 51h3v1h-3zM372 51h1v1h-1zM385 51h3v1h-3zM389 51h3v1h-3zM343 95h1v1h-1zM348 95h2v1h-2zM378 43h1v1h-1zM380 43h5v1h-5zM386 43h2v1h-2zM390 43h1v1h-1z" fill="#0a0aff"/>
<path d="M351 83h5v1h-5zM362 66h2v1h-2zM374 66h3v1h-3zM361 67h3v1h-3zM372 67h5v1h-5zM365 63h3v1h-3zM376 63h4v1h-4zM358 73h2v1h-2zM367 73h4v1h-4zM369 59h2v1h-2zM380 59h2v1h-2zM371 56h4v1h-4zM380 56h3v1h-3zM350 85h1v1h-1zM353 85h1v1h-1zM354 79h8v1h-8zM370 57h3v1h-3zM380 57h2v1h-2zM355 78h2v1h-2zM360 78h5v1h-5zM360 68h3v1h-3zM371 68h5v1h-5zM352 81h9v1h-9zM356 75h2v1h-2zM365 75h3v1h-3zM369 60h1v1h-1zM378 60h4v1h-4zM367 62h1v1h-1zM378 62h3v1h-3zM359 71h2v1h-2zM369 71h3v1h-3zM372 55h5v1h-5zM380 55h3v1h-3zM367 61h3v1h-3zM378 61h3v1h-3zM369 58h4v1h-4zM380 58h3v1h-3zM354 80h8v1h-8zM357 74h2v1h-2zM366 74h3v1h-3zM360 70h1v1h-1zM370 70h3v1h-3zM355 77h3v1h-3zM362 77h4v1h-4zM374 53h9v1h-9zM372 54h11v1h-11zM353 82h6v1h-6zM360 69h2v1h-2zM371 69h2v1h-2zM355 76h3v1h-3zM363 76h3v1h-3zM363 65h2v1h-2zM375 65h3v1h-3zM358 72h2v1h-2zM367 72h1v1h-1zM369 72h2v1h-2zM376 52h6v1h-6zM364 64h3v1h-3zM375 64h4v1h-4zM351 84h3v1h-3z" fill="#00f060"/>
<path d="M362 69h1v1h-1zM363 70h1v1h-1zM368 70h1v1h-1zM361 76h2v1h-2zM364 67h1v1h-1zM371 67h1v1h-1zM374 57h1v1h-1zM378 57h1v1h-1zM360 72h1v1h-1zM376 62h1v1h-1zM372 59h1v1h-1zM378 59h1v1h-1zM360 74h1v1h-1zM360 75h1v1h-1zM363 75h1v1h-1zM377 61h1v1h-1zM366 65h1v1h-1zM361 71h1v1h-1zM360 73h1v1h-1zM376 56h1v1h-1zM378 55h2v1h-2zM375 63h1v1h-1zM359 77h1v1h-1zM374 64h1v1h-1z" fill="#f0f000"/>
<path d="M371 52h2v1h-2zM385 52h1v1h-1zM378 49h5v1h-5zM350 80h2v1h-2zM365 80h2v1h-2zM349 82h1v1h-1zM362 82h2v1h-2zM354 73h2v1h-2zM372 73h2v1h-2zM349 81h1v1h-1zM363 81h2v1h-2zM370 53h1v1h-1zM385 53h1v1h-1zM356 69h3v1h-3zM376 69h2v1h-2zM365 60h2v1h-2zM384 60h1v1h-1zM375 50h1v1h-1zM377 50h1v1h-1zM382 50h3v1h-3zM357 68h2v1h-2zM377 68h3v1h-3zM363 62h1v1h-1zM383 62h1v1h-1zM353 75h1v1h-1zM371 75h1v1h-1zM356 85h3v1h-3zM363 61h3v1h-3zM383 61h1v1h-1zM348 84h1v1h-1zM360 84h1v1h-1zM366 59h1v1h-1zM384 59h2v1h-2zM353 77h1v1h-1zM368 77h2v1h-2zM369 54h2v1h-2zM352 76h2v1h-2zM369 76h2v1h-2zM348 83h1v1h-1zM361 83h2v1h-2zM347 87h1v1h-1zM349 87h1v1h-1zM351 87h1v1h-1zM354 87h2v1h-2zM368 56h1v1h-1zM385 56h1v1h-1zM354 74h2v1h-2zM372 74h1v1h-1zM347 89h5v1h-5zM362 63h1v1h-1zM383 63h1v1h-1zM347 88h4v1h-4zM352 88h3v1h-3zM368 55h2v1h-2zM385 55h1v1h-1zM368 57h1v1h-1zM385 57h1v1h-1zM361 64h1v1h-1zM381 64h1v1h-1zM351 78h1v1h-1zM368 78h1v1h-1zM366 58h2v1h-2zM373 51h2v1h-2zM384 51h1v1h-1zM347 86h2v1h-2zM356 86h1v1h-1zM360 65h1v1h-1zM380 65h1v1h-1zM356 71h1v1h-1zM375 71h1v1h-1zM359 66h2v1h-2zM379 66h2v1h-2zM350 79h2v1h-2zM366 79h1v1h-1zM355 72h2v1h-2zM373 72h1v1h-1zM359 67h1v1h-1zM378 67h1v1h-1zM376 70h1v1h-1z" fill="#0030ff"/>
<path d="M358 76h1v1h-1zM360 76h1v1h-1zM357 78h3v1h-3zM371 59h1v1h-1zM379 59h1v1h-1zM376 61h1v1h-1zM368 62h1v1h-1zM375 62h1v1h-1zM377 62h1v1h-1zM367 64h1v1h-1zM361 70h1v1h-1zM358 75h2v1h-2zM364 75h1v1h-1zM366 73h1v1h-1zM364 66h2v1h-2zM373 66h1v1h-1zM365 65h1v1h-1zM374 65h1v1h-1zM359 74h1v1h-1zM365 74h1v1h-1zM373 58h1v1h-1zM379 58h1v1h-1zM373 57h1v1h-1zM370 60h1v1h-1zM379 56h1v1h-1zM370 69h1v1h-1zM358 77h1v1h-1zM360 77h2v1h-2zM368 72h1v1h-1zM363 68h1v1h-1zM368 71h1v1h-1z" fill="#60f020"/>
<path d="M367 60h2v1h-2zM382 60h1v1h-1zM377 66h1v1h-1zM350 86h5v1h-5zM373 53h1v1h-1zM383 53h2v1h-2zM371 55h1v1h-1zM383 55h1v1h-1zM368 59h1v1h-1zM382 59h2v1h-2zM350 84h1v1h-1zM354 84h3v1h-3zM351 85h2v1h-2zM355 85h1v1h-1zM356 74h1v1h-1zM369 74h1v1h-1zM375 51h1v1h-1zM377 51h2v1h-2zM380 51h1v1h-1zM382 51h1v1h-1zM366 61h1v1h-1zM381 61h1v1h-1zM373 52h1v1h-1zM375 52h1v1h-1zM382 52h1v1h-1zM355 75h1v1h-1zM368 75h1v1h-1zM371 54h1v1h-1zM383 54h1v1h-1zM350 83h1v1h-1zM356 83h4v1h-4zM358 70h2v1h-2zM373 70h2v1h-2zM381 50h1v1h-1zM354 77h1v1h-1zM366 77h1v1h-1zM357 72h1v1h-1zM371 72h1v1h-1zM351 82h2v1h-2zM360 82h1v1h-1zM353 79h1v1h-1zM362 79h2v1h-2zM354 76h1v1h-1zM366 76h3v1h-3zM370 56h1v1h-1zM383 56h1v1h-1zM359 69h1v1h-1zM373 69h2v1h-2zM365 62h2v1h-2zM381 62h1v1h-1zM362 65h1v1h-1zM378 65h1v1h-1zM353 78h2v1h-2zM366 78h1v1h-1zM380 63h1v1h-1zM368 58h1v1h-1zM383 58h1v1h-1zM358 71h1v1h-1zM372 71h2v1h-2zM369 57h1v1h-1zM382 57h2v1h-2zM356 73h2v1h-2zM371 73h1v1h-1zM353 80h1v1h-1zM363 80h1v1h-1zM379 64h2v1h-2zM376 68h1v1h-1zM360 67h1v1h-1zM351 81h1v1h-1z" fill="#00e0e0"/>
<path d="M369 62h1v1h-1zM366 66h1v1h-1zM372 66h1v1h-1zM368 63h1v1h-1zM363 69h1v1h-1zM369 69h1v1h-1zM375 56h1v1h-1zM362 71h1v1h-1zM366 72h1v1h-1zM375 57h1v1h-1zM377 57h1v1h-1zM379 57h1v1h-1zM377 60h1v1h-1zM362 75h1v1h-1zM377 59h1v1h-1zM359 76h1v1h-1zM378 58h1v1h-1zM377 55h1v1h-1zM370 61h1v1h-1zM362 70h1v1h-1z" fill="#ff9000"/>
<path d="M369 63h6v1h-6zM364 69h5v1h-5zM364 70h4v1h-4zM369 70h1v1h-1zM361 72h5v1h-5zM377 56h2v1h-2zM367 65h7v1h-7zM363 71h5v1h-5zM373 59h4v1h-4zM370 62h5v1h-5zM374 58h4v1h-4zM368 64h6v1h-6zM361 73h5v1h-5zM371 60h6v1h-6zM367 66h5v1h-5zM365 67h6v1h-6zM364 68h7v1h-7zM361 74h4v1h-4zM371 61h5v1h-5zM361 75h1v1h-1zM376 57h1v1h-1z" fill="#ff2000"/>
<path d="M354 75h1v1h-1zM369 75h2v1h-2zM361 66h1v1h-1zM378 66h1v1h-1zM371 53h2v1h-2zM348 87h1v1h-1zM350 87h1v1h-1zM352 87h2v1h-2zM374 52h1v1h-1zM383 52h2v1h-2zM352 77h1v1h-1zM367 77h1v1h-1zM350 81h1v1h-1zM361 81h2v1h-2zM364 62h1v1h-1zM382 62h1v1h-1zM348 85h2v1h-2zM354 85h1v1h-1zM376 51h1v1h-1zM379 51h1v1h-1zM381 51h1v1h-1zM383 51h1v1h-1zM357 70h1v1h-1zM375 70h1v1h-1zM349 84h1v1h-1zM357 84h3v1h-3zM363 63h2v1h-2zM381 63h2v1h-2zM370 74h2v1h-2zM376 50h1v1h-1zM378 50h3v1h-3zM382 61h1v1h-1zM369 56h1v1h-1zM384 56h1v1h-1zM349 83h1v1h-1zM360 83h1v1h-1zM384 54h1v1h-1zM352 78h1v1h-1zM365 78h1v1h-1zM367 78h1v1h-1zM349 86h1v1h-1zM355 86h1v1h-1zM357 71h1v1h-1zM374 71h1v1h-1zM350 82h1v1h-1zM359 82h1v1h-1zM361 82h1v1h-1zM352 80h1v1h-1zM362 80h1v1h-1zM364 80h1v1h-1zM375 69h1v1h-1zM361 65h1v1h-1zM379 65h1v1h-1zM351 88h1v1h-1zM370 55h1v1h-1zM384 55h1v1h-1zM362 64h2v1h-2zM352 79h1v1h-1zM364 79h2v1h-2zM384 58h1v1h-1zM384 57h1v1h-1zM367 59h1v1h-1zM359 68h1v1h-1zM372 72h1v1h-1zM377 67h1v1h-1zM383 60h1v1h-1z" fill="#0090ff"/>
<path d="M474 78h3v1h-3zM504 78h2v1h-2zM507 78h2v1h-2zM450 110h2v1h-2zM454 110h2v1h-2zM468 110h2v1h-2zM471 110h3v1h-3zM475 110h1v1h-1zM477 110h4v1h-4zM461 92h8v1h-8zM496 92h3v1h-3zM500 92h1v1h-1zM484 66h2v1h-2zM487 66h3v1h-3zM491 66h1v1h-1zM499 66h5v1h-5zM505 66h1v1h-1zM508 66h1v1h-1zM487 62h1v1h-1zM490 62h2v1h-2zM493 62h3v1h-3zM497 62h4v1h-4zM502 62h2v1h-2zM505 62h2v1h-2zM508 62h1v1h-1zM454 100h7v1h-7zM487 100h4v1h-4zM473 77h6v1h-6zM505 77h2v1h-2zM465 87h2v1h-2zM468 87h2v1h-2zM499 87h1v1h-1zM501 87h4v1h-4zM484 65h1v1h-1zM486 65h4v1h-4zM492 65h4v1h-4zM498 65h5v1h-5zM505 65h1v1h-1zM509 65h1v1h-1zM451 117h3v1h-3zM455 117h2v1h-2zM458 117h1v1h-1zM460 117h3v1h-3zM466 117h1v1h-1zM469 84h1v1h-1zM471 84h2v1h-2zM502 84h1v1h-1zM505 84h1v1h-1zM464 94h2v1h-2zM496 94h1v1h-1zM454 107h2v1h-2zM473 107h4v1h-4zM478 107h2v1h-2zM482 107h2v1h-2zM475 74h2v1h-2zM478 74h3v1h-3zM505 74h3v1h-3zM510 74h1v1h-1zM452 113h1v1h-1zM454 113h1v1h-1zM462 113h5v1h-5zM468 113h2v1h-2zM471 113h1v1h-1zM474 113h2v1h-2zM478 113h1v1h-1zM454 101h1v1h-1zM457 101h1v1h-1zM459 101h2v1h-2zM486 101h1v1h-1zM488 101h3v1h-3zM492 101h1v1h-1zM470 80h2v1h-2zM475 80h1v1h-1zM504 80h1v1h-1zM506 80h1v1h-1zM508 80h1v1h-1zM494 58h2v1h-2zM506 58h1v1h-1zM484 64h1v1h-1zM486 64h1v1h-1zM488 64h7v1h-7zM497 64h3v1h-3zM501 64h4v1h-4zM506 64h1v1h-1zM508 64h1v1h-1zM453 116h1v1h-1zM455 116h4v1h-4zM461 116h1v1h-1zM465 116h2v1h-2zM472 116h1v1h-1zM451 114h1v1h-1zM454 114h11v1h-11zM466 114h1v1h-1zM468 114h1v1h-1zM470 114h1v1h-1zM483 67h3v1h-3zM487 67h1v1h-1zM503 67h2v1h-2zM451 109h2v1h-2zM455 109h1v1h-1zM468 109h4v1h-4zM473 109h4v1h-4zM481 109h1v1h-1zM479 68h1v1h-1zM482 68h2v1h-2zM486 68h1v1h-1zM505 68h2v1h-2zM510 68h1v1h-1zM456 97h1v1h-1zM458 97h1v1h-1zM463 97h2v1h-2zM491 97h4v1h-4zM493 60h3v1h-3zM500 60h1v1h-1zM502 60h1v1h-1zM508 60h1v1h-1zM457 120h2v1h-2zM460 120h1v1h-1zM462 91h2v1h-2zM467 91h2v1h-2zM496 91h2v1h-2zM499 91h2v1h-2zM452 104h2v1h-2zM455 104h3v1h-3zM481 104h3v1h-3zM485 104h1v1h-1zM487 104h1v1h-1zM489 104h2v1h-2zM478 70h2v1h-2zM482 70h2v1h-2zM505 70h3v1h-3zM488 61h1v1h-1zM493 61h5v1h-5zM501 61h1v1h-1zM504 61h1v1h-1zM506 61h1v1h-1zM454 99h1v1h-1zM461 99h1v1h-1zM463 99h1v1h-1zM488 99h1v1h-1zM490 99h2v1h-2zM494 99h1v1h-1zM450 112h1v1h-1zM452 112h1v1h-1zM455 112h2v1h-2zM463 112h1v1h-1zM465 112h1v1h-1zM467 112h3v1h-3zM471 112h1v1h-1zM473 112h2v1h-2zM476 112h1v1h-1zM478 112h1v1h-1zM462 93h6v1h-6zM496 93h2v1h-2zM499 93h1v1h-1zM477 71h2v1h-2zM480 71h4v1h-4zM504 71h1v1h-1zM506 71h2v1h-2zM510 71h1v1h-1zM454 106h2v1h-2zM477 106h3v1h-3zM481 106h4v1h-4zM486 106h2v1h-2zM500 57h1v1h-1zM504 57h1v1h-1zM459 95h1v1h-1zM461 95h6v1h-6zM492 95h2v1h-2zM495 95h1v1h-1zM488 63h1v1h-1zM490 63h2v1h-2zM493 63h3v1h-3zM498 63h11v1h-11zM455 102h3v1h-3zM459 102h2v1h-2zM485 102h1v1h-1zM487 102h3v1h-3zM492 102h1v1h-1zM455 119h1v1h-1zM457 119h3v1h-3zM464 119h1v1h-1zM467 89h3v1h-3zM498 89h2v1h-2zM501 89h1v1h-1zM470 86h2v1h-2zM500 86h3v1h-3zM504 86h1v1h-1zM451 115h1v1h-1zM455 115h2v1h-2zM458 115h3v1h-3zM462 115h2v1h-2zM466 115h1v1h-1zM471 115h2v1h-2zM453 103h1v1h-1zM455 103h2v1h-2zM482 103h1v1h-1zM484 103h1v1h-1zM487 103h4v1h-4zM493 59h1v1h-1zM495 59h1v1h-1zM501 59h1v1h-1zM504 59h1v1h-1zM506 59h1v1h-1zM453 111h4v1h-4zM468 111h1v1h-1zM470 111h9v1h-9zM481 111h1v1h-1zM452 105h1v1h-1zM454 105h2v1h-2zM477 105h1v1h-1zM481 105h5v1h-5zM488 105h1v1h-1zM477 72h4v1h-4zM482 72h1v1h-1zM506 72h1v1h-1zM508 72h2v1h-2zM470 79h1v1h-1zM472 79h1v1h-1zM474 79h3v1h-3zM504 79h1v1h-1zM508 79h1v1h-1zM465 88h2v1h-2zM468 88h1v1h-1zM499 88h6v1h-6zM479 69h1v1h-1zM481 69h1v1h-1zM483 69h2v1h-2zM503 69h3v1h-3zM468 81h4v1h-4zM473 81h1v1h-1zM503 81h2v1h-2zM506 81h1v1h-1zM453 108h2v1h-2zM470 108h4v1h-4zM477 108h3v1h-3zM481 108h1v1h-1zM483 108h1v1h-1zM454 118h1v1h-1zM462 118h1v1h-1zM467 118h1v1h-1zM457 96h1v1h-1zM460 96h3v1h-3zM465 96h1v1h-1zM491 96h1v1h-1zM493 96h3v1h-3zM463 90h1v1h-1zM469 90h1v1h-1zM497 90h3v1h-3zM475 76h4v1h-4zM504 76h2v1h-2zM507 76h2v1h-2zM468 83h1v1h-1zM471 83h2v1h-2zM502 83h4v1h-4zM469 82h1v1h-1zM471 82h4v1h-4zM502 82h3v1h-3zM506 82h1v1h-1zM457 98h2v1h-2zM460 98h4v1h-4zM490 98h1v1h-1zM492 98h1v1h-1zM495 98h1v1h-1zM474 73h1v1h-1zM477 73h1v1h-1zM507 73h2v1h-2zM469 85h3v1h-3zM502 85h1v1h-1zM505 85h2v1h-2zM473 75h1v1h-1zM475 75h1v1h-1zM478 75h2v1h-2zM504 75h1v1h-1zM507 75h1v1h-1z" fill="#0a0aff"/>
<path d="M469 91h1v1h-1zM495 91h1v1h-1zM457 111h2v1h-2zM460 111h7v1h-7zM472 85h2v1h-2zM500 85h1v1h-1zM483 72h1v1h-1zM502 72h3v1h-3zM458 104h3v1h-3zM467 104h1v1h-1zM477 104h1v1h-1zM479 104h2v1h-2zM468 93h2v1h-2zM494 93h1v1h-1zM458 113h3v1h-3zM456 107h3v1h-3zM468 107h5v1h-5zM481 74h1v1h-1zM502 74h3v1h-3zM467 94h1v1h-1zM493 94h1v1h-1zM458 103h3v1h-3zM481 103h1v1h-1zM488 67h1v1h-1zM490 67h3v1h-3zM498 67h4v1h-4zM475 82h1v1h-1zM501 82h1v1h-1zM466 96h2v1h-2zM464 98h3v1h-3zM489 98h1v1h-1zM461 100h5v1h-5zM467 100h1v1h-1zM485 100h2v1h-2zM473 84h2v1h-2zM500 84h2v1h-2zM462 99h1v1h-1zM464 99h1v1h-1zM487 99h1v1h-1zM457 112h6v1h-6zM464 112h1v1h-1zM472 86h1v1h-1zM499 86h1v1h-1zM481 73h3v1h-3zM503 73h2v1h-2zM494 92h2v1h-2zM476 80h1v1h-1zM502 80h1v1h-1zM456 106h2v1h-2zM470 106h7v1h-7zM470 87h1v1h-1zM472 87h1v1h-1zM498 87h1v1h-1zM457 105h2v1h-2zM472 105h1v1h-1zM474 105h3v1h-3zM478 105h2v1h-2zM456 109h2v1h-2zM465 109h3v1h-3zM487 69h2v1h-2zM501 69h2v1h-2zM456 108h1v1h-1zM460 108h1v1h-1zM468 108h2v1h-2zM477 79h1v1h-1zM502 79h1v1h-1zM480 75h2v1h-2zM503 75h1v1h-1zM479 76h1v1h-1zM503 76h1v1h-1zM487 68h3v1h-3zM501 68h1v1h-1zM478 78h1v1h-1zM502 78h2v1h-2zM465 97h3v1h-3zM489 97h2v1h-2zM456 110h2v1h-2zM463 110h1v1h-1zM465 110h2v1h-2zM461 101h2v1h-2zM483 101h3v1h-3zM470 88h2v1h-2zM497 88h1v1h-1zM474 81h2v1h-2zM502 81h1v1h-1zM474 83h1v1h-1zM501 83h1v1h-1zM485 70h1v1h-1zM502 70h2v1h-2zM470 90h1v1h-1zM496 90h1v1h-1zM479 77h1v1h-1zM503 77h1v1h-1zM461 102h1v1h-1zM482 102h2v1h-2zM490 66h1v1h-1zM492 66h7v1h-7zM470 89h1v1h-1zM496 89h2v1h-2zM484 71h1v1h-1zM502 71h1v1h-1zM496 65h1v1h-1zM467 95h2v1h-2z" fill="#0030ff"/>
<path d="M481 87h1v1h-1zM483 87h9v1h-9zM481 88h11v1h-11zM483 94h3v1h-3zM479 90h1v1h-1zM481 90h9v1h-9zM490 77h5v1h-5zM488 78h6v1h-6zM484 84h8v1h-8zM493 84h1v1h-1zM480 91h1v1h-1zM482 91h8v1h-8zM485 85h8v1h-8zM487 80h7v1h-7zM495 80h1v1h-1zM484 81h1v1h-1zM488 81h7v1h-7zM486 83h1v1h-1zM488 83h6v1h-6zM481 89h1v1h-1zM483 89h8v1h-8zM484 82h12v1h-12zM487 79h7v1h-7zM483 86h9v1h-9zM483 93h5v1h-5zM482 92h7v1h-7zM492 76h1v1h-1zM492 75h1v1h-1z" fill="#ff2000"/>
<path d="M477 84h4v1h-4zM495 84h3v1h-3zM473 90h4v1h-4zM492 90h3v1h-3zM473 91h4v1h-4zM492 91h3v1h-3zM490 69h7v1h-7zM498 69h2v1h-2zM484 74h3v1h-3zM494 74h1v1h-1zM496 74h5v1h-5zM471 101h10v1h-10zM471 97h9v1h-9zM481 97h2v1h-2zM484 97h4v1h-4zM470 98h12v1h-12zM483 98h3v1h-3zM490 70h9v1h-9zM472 93h4v1h-4zM490 93h2v1h-2zM488 71h12v1h-12zM477 81h4v1h-4zM497 81h3v1h-3zM471 100h12v1h-12zM474 87h5v1h-5zM494 87h3v1h-3zM470 99h1v1h-1zM472 99h12v1h-12zM485 99h1v1h-1zM480 80h3v1h-3zM498 80h2v1h-2zM476 83h5v1h-5zM496 83h3v1h-3zM496 68h1v1h-1zM486 73h4v1h-4zM496 73h6v1h-6zM464 106h1v1h-1zM475 86h3v1h-3zM480 86h1v1h-1zM495 86h3v1h-3zM482 76h4v1h-4zM498 76h3v1h-3zM471 96h5v1h-5zM477 96h2v1h-2zM482 96h1v1h-1zM485 96h4v1h-4zM471 95h6v1h-6zM488 95h3v1h-3zM478 82h3v1h-3zM482 82h1v1h-1zM497 82h3v1h-3zM474 89h3v1h-3zM494 89h1v1h-1zM471 92h4v1h-4zM491 92h2v1h-2zM462 105h1v1h-1zM484 75h3v1h-3zM497 75h4v1h-4zM487 72h3v1h-3zM491 72h2v1h-2zM495 72h1v1h-1zM497 72h4v1h-4zM472 94h5v1h-5zM489 94h2v1h-2zM481 78h3v1h-3zM498 78h3v1h-3zM472 102h1v1h-1zM476 102h1v1h-1zM475 85h5v1h-5zM495 85h3v1h-3zM482 77h3v1h-3zM497 77h5v1h-5zM481 79h2v1h-2zM497 79h1v1h-1zM499 79h2v1h-2zM474 88h4v1h-4zM494 88h3v1h-3zM464 103h1v1h-1z" fill="#00f060"/>
<path d="M463 104h3v1h-3zM468 104h1v1h-1zM492 68h4v1h-4zM497 68h1v1h-1zM460 107h5v1h-5zM468 101h3v1h-3zM482 101h1v1h-1zM462 103h1v1h-1zM465 103h5v1h-5zM471 103h1v1h-1zM474 103h1v1h-1zM477 103h2v1h-2zM470 94h2v1h-2zM491 94h1v1h-1zM473 89h1v1h-1zM495 89h1v1h-1zM469 97h2v1h-2zM488 97h1v1h-1zM463 102h1v1h-1zM465 102h7v1h-7zM473 102h3v1h-3zM477 102h3v1h-3zM470 93h2v1h-2zM492 93h1v1h-1zM468 99h2v1h-2zM471 99h1v1h-1zM484 99h1v1h-1zM486 99h1v1h-1zM479 80h1v1h-1zM500 80h2v1h-2zM501 76h2v1h-2zM472 90h1v1h-1zM468 96h1v1h-1zM470 96h1v1h-1zM489 96h2v1h-2zM501 74h1v1h-1zM469 98h1v1h-1zM486 98h1v1h-1zM484 73h2v1h-2zM461 108h4v1h-4zM482 75h2v1h-2zM501 75h1v1h-1zM460 105h1v1h-1zM463 105h2v1h-2zM468 105h2v1h-2zM471 91h2v1h-2zM470 92h1v1h-1zM493 92h1v1h-1zM466 100h1v1h-1zM469 100h2v1h-2zM483 100h2v1h-2zM461 109h2v1h-2zM476 84h1v1h-1zM498 84h2v1h-2zM480 78h1v1h-1zM501 78h1v1h-1zM488 70h2v1h-2zM499 70h1v1h-1zM479 79h2v1h-2zM460 106h1v1h-1zM463 106h1v1h-1zM477 82h1v1h-1zM500 82h1v1h-1zM497 69h1v1h-1zM485 72h2v1h-2zM487 71h1v1h-1zM481 77h1v1h-1zM500 81h1v1h-1zM499 83h1v1h-1zM474 86h1v1h-1zM473 88h1v1h-1zM473 87h1v1h-1z" fill="#00e0e0"/>
<path d="M483 95h2v1h-2zM494 80h1v1h-1zM483 84h1v1h-1zM492 84h1v1h-1zM480 90h1v1h-1zM490 90h2v1h-2zM488 77h2v1h-2zM479 93h1v1h-1zM482 93h1v1h-1zM488 93h1v1h-1zM479 89h2v1h-2zM482 89h1v1h-1zM491 89h1v1h-1zM483 85h2v1h-2zM493 85h1v1h-1zM480 88h1v1h-1zM492 88h1v1h-1zM479 92h3v1h-3zM489 92h1v1h-1zM485 81h3v1h-3zM479 94h1v1h-1zM481 94h2v1h-2zM480 87h1v1h-1zM482 86h1v1h-1zM492 86h1v1h-1zM494 86h1v1h-1zM485 83h1v1h-1zM487 83h1v1h-1zM491 76h1v1h-1zM495 76h1v1h-1zM495 75h1v1h-1zM495 78h1v1h-1zM494 79h2v1h-2zM481 91h1v1h-1z" fill="#ff9000"/>
<path d="M487 75h2v1h-2zM491 75h1v1h-1zM494 75h1v1h-1zM496 75h1v1h-1zM481 81h3v1h-3zM495 81h2v1h-2zM485 77h3v1h-3zM480 97h1v1h-1zM483 97h1v1h-1zM476 93h3v1h-3zM489 93h1v1h-1zM481 83h2v1h-2zM495 83h1v1h-1zM477 90h2v1h-2zM475 92h4v1h-4zM490 92h1v1h-1zM477 95h3v1h-3zM481 95h1v1h-1zM485 95h3v1h-3zM486 76h2v1h-2zM489 76h1v1h-1zM496 76h1v1h-1zM481 82h1v1h-1zM483 82h1v1h-1zM496 82h1v1h-1zM477 89h2v1h-2zM492 89h2v1h-2zM483 80h3v1h-3zM496 80h2v1h-2zM480 85h2v1h-2zM476 96h1v1h-1zM481 96h1v1h-1zM484 96h1v1h-1zM484 78h4v1h-4zM497 78h1v1h-1zM482 84h1v1h-1zM494 84h1v1h-1zM477 91h2v1h-2zM491 91h1v1h-1zM490 72h1v1h-1zM493 72h1v1h-1zM496 72h1v1h-1zM490 73h6v1h-6zM478 86h2v1h-2zM493 86h1v1h-1zM483 79h2v1h-2zM498 79h1v1h-1zM477 94h1v1h-1zM487 94h2v1h-2zM487 74h4v1h-4zM482 98h1v1h-1zM493 88h1v1h-1zM479 87h1v1h-1zM493 87h1v1h-1z" fill="#60f020"/>
<path d="M484 72h1v1h-1zM501 72h1v1h-1zM461 103h1v1h-1zM463 103h1v1h-1zM470 103h1v1h-1zM472 103h2v1h-2zM475 103h2v1h-2zM479 103h2v1h-2zM468 100h1v1h-1zM476 81h1v1h-1zM501 81h1v1h-1zM472 88h1v1h-1zM482 74h2v1h-2zM463 101h5v1h-5zM481 101h1v1h-1zM458 106h2v1h-2zM461 106h2v1h-2zM465 106h5v1h-5zM477 80h2v1h-2zM459 107h1v1h-1zM465 107h3v1h-3zM458 110h5v1h-5zM464 110h1v1h-1zM469 96h1v1h-1zM459 105h1v1h-1zM461 105h1v1h-1zM465 105h3v1h-3zM470 105h2v1h-2zM473 105h1v1h-1zM480 76h2v1h-2zM471 89h2v1h-2zM457 108h3v1h-3zM465 108h3v1h-3zM461 104h2v1h-2zM466 104h1v1h-1zM469 104h8v1h-8zM478 104h1v1h-1zM493 93h1v1h-1zM474 85h1v1h-1zM498 85h2v1h-2zM476 82h1v1h-1zM502 75h1v1h-1zM475 84h1v1h-1zM490 68h2v1h-2zM498 68h3v1h-3zM467 98h2v1h-2zM487 98h2v1h-2zM468 94h2v1h-2zM492 94h1v1h-1zM489 69h1v1h-1zM500 69h1v1h-1zM480 77h1v1h-1zM502 77h1v1h-1zM475 83h1v1h-1zM500 83h1v1h-1zM471 90h1v1h-1zM495 90h1v1h-1zM486 70h2v1h-2zM500 70h2v1h-2zM497 87h1v1h-1zM465 99h3v1h-3zM493 67h5v1h-5zM458 109h3v1h-3zM463 109h2v1h-2zM473 86h1v1h-1zM498 86h1v1h-1zM469 95h2v1h-2zM491 95h1v1h-1zM479 78h1v1h-1zM478 79h1v1h-1zM501 79h1v1h-1zM485 71h2v1h-2zM500 71h2v1h-2zM470 91h1v1h-1zM502 73h1v1h-1zM462 102h1v1h-1zM464 102h1v1h-1zM480 102h2v1h-2zM469 92h1v1h-1zM459 111h1v1h-1zM468 97h1v1h-1z" fill="#0090ff"/>
<path d="M478 94h1v1h-1zM480 94h1v1h-1zM486 94h1v1h-1zM479 91h1v1h-1zM490 91h1v1h-1zM483 83h2v1h-2zM494 83h1v1h-1zM480 93h2v1h-2zM489 75h2v1h-2zM493 75h1v1h-1zM479 96h2v1h-2zM483 96h1v1h-1zM494 72h1v1h-1zM488 76h1v1h-1zM490 76h1v1h-1zM493 76h2v1h-2zM497 76h1v1h-1zM485 79h2v1h-2zM496 79h1v1h-1zM480 95h1v1h-1zM482 95h1v1h-1zM481 84h1v1h-1zM482 85h1v1h-1zM494 85h1v1h-1zM491 74h3v1h-3zM495 74h1v1h-1zM481 86h1v1h-1zM494 78h1v1h-1zM496 78h1v1h-1zM478 88h2v1h-2zM482 87h1v1h-1zM492 87h1v1h-1zM495 77h2v1h-2zM486 80h1v1h-1z" fill="#f0f000"/>
<line x1="347.2" y1="6.5" x2="347.2" y2="130.3" stroke="#333" stroke-width="1"/>
<line x1="287.4" y1="90.9" x2="412.4" y2="90.9" stroke="#333" stroke-width="1"/>
<line x1="469.6" y1="5.8" x2="469.6" y2="129.8" stroke="#333" stroke-width="1"/>
<line x1="420.1" y1="99.1" x2="544.8" y2="99.1" stroke="#333" stroke-width="1"/>
<text x="4.8" y="175.6" font-size="24" fill="#000" font-weight="bold" text-anchor="start">C</text>
<rect x="25" y="173" width="510" height="124" fill="#000"/>
<rect x="149.1" y="173" width="1.5" height="124" fill="#8a8a8a"/>
<rect x="274.1" y="173" width="1.5" height="124" fill="#8a8a8a"/>
<rect x="399.3" y="173" width="1.3" height="124" fill="#fff"/>
<clipPath id="cp1"><rect x="25" y="173" width="124" height="124"/></clipPath><clipPath id="cp2"><rect x="150.6" y="173" width="123.5" height="124"/></clipPath><clipPath id="cp3"><rect x="275.6" y="173" width="123.7" height="124"/></clipPath>
<g clip-path="url(#cp1)">
<path d="M59.9,198.5 L60.3,197.7 L60.7,196.8 L61.2,196.0 L61.6,195.1 L62.1,194.2 L62.7,193.4 L63.3,192.6 L63.9,191.8 L64.6,191.1 L65.3,190.5 L66.1,189.9 L66.9,189.3 L67.9,188.8 L68.8,188.3 L69.8,187.9 L70.8,187.5 L71.8,187.1 L72.8,186.8 L73.8,186.6 L74.7,186.4 L75.6,186.3 L76.4,186.2 L77.3,186.2 L78.1,186.3 L79.0,186.4 L79.8,186.6 L80.6,186.8 L81.3,187.1 L82.1,187.4 L82.8,187.8 L83.5,188.2 L84.2,188.8 L84.9,189.3 L85.6,190.0 L86.2,190.7 L86.9,191.4 L87.5,192.1 L88.0,192.9 L88.5,193.7 L89.0,194.5 L89.4,195.3 L89.8,196.2 L90.2,197.1 L90.6,198.1 L90.9,199.0 L91.1,200.0 L91.4,201.0 L91.5,202.0 L91.6,202.9 L91.7,203.9 L91.7,204.9 L91.6,205.8 L91.5,206.8 L91.4,207.8 L91.2,208.8 L90.9,209.7 L90.6,210.7 L90.3,211.6 L89.9,212.5 L89.5,213.3 L89.0,214.1 L88.5,214.9 L87.9,215.6 L87.3,216.4 L86.6,217.1 L85.9,217.7 L85.2,218.4 L84.4,219.0 L83.6,219.5 L82.8,220.0 L82.0,220.4 L81.1,220.9 L80.1,221.2 L79.2,221.6 L78.2,221.8 L77.2,222.1 L76.2,222.3 L75.2,222.5 L74.3,222.6 L73.4,222.7 L72.5,222.8 L71.7,222.8 L70.8,222.7 L69.9,222.7 L69.1,222.6 L68.3,222.4 L67.5,222.2 L66.7,222.0 L66.0,221.7 L65.3,221.4 L64.6,221.0 L64.0,220.6 L63.4,220.2 L62.8,219.7 L62.2,219.2 L61.7,218.6 L61.2,218.0 L60.7,217.4 L60.3,216.7 L59.9,216.0 L59.5,215.2 L59.2,214.4 L58.9,213.4 L58.6,212.5 L58.4,211.5 L58.2,210.5 L58.0,209.5 L57.9,208.5 L57.8,207.5 L57.8,206.6 L57.8,205.7 L57.9,204.9 L58.0,204.1 L58.2,203.3 L58.4,202.5 L58.6,201.7 L58.9,200.9 L59.2,200.1 L59.5,199.3Z" fill="none" stroke="#108a10" stroke-opacity="0.16" stroke-width="3" filter="url(#haze)"/>
<path d="M107.0,212.0 L107.4,211.3 L107.9,210.6 L108.5,210.0 L109.1,209.4 L109.8,208.8 L110.5,208.3 L111.2,207.8 L112.0,207.4 L112.8,207.0 L113.7,206.6 L114.6,206.3 L115.6,205.9 L116.6,205.7 L117.7,205.4 L118.8,205.2 L120.0,205.0 L121.1,204.9 L122.3,204.8 L123.4,204.7 L124.5,204.7 L125.6,204.7 L126.7,204.8 L127.8,204.9 L128.8,205.1 L129.9,205.3 L131.0,205.5 L132.1,205.8 L133.1,206.0 L134.2,206.3 L135.2,206.6 L136.2,206.9 L137.2,207.2 L138.3,207.6 L139.3,207.9 L140.3,208.3 L141.2,208.7 L142.2,209.1 L143.0,209.6 L143.9,210.1 L144.6,210.6 L145.3,211.1 L145.9,211.7 L146.5,212.3 L147.0,212.9 L147.5,213.5 L147.9,214.2 L148.3,214.9 L148.7,215.7 L148.9,216.5 L149.2,217.4 L149.4,218.4 L149.6,219.5 L149.7,220.7 L149.8,222.0 L149.9,223.3 L149.8,224.6 L149.8,225.9 L149.7,227.2 L149.5,228.4 L149.2,229.5 L148.9,230.6 L148.5,231.6 L148.0,232.7 L147.5,233.7 L146.9,234.7 L146.3,235.6 L145.6,236.5 L144.9,237.4 L144.1,238.2 L143.3,238.9 L142.4,239.6 L141.5,240.2 L140.4,240.8 L139.3,241.3 L138.2,241.7 L137.0,242.2 L135.9,242.5 L134.7,242.9 L133.6,243.2 L132.5,243.4 L131.4,243.6 L130.3,243.8 L129.2,243.9 L128.1,243.9 L127.0,244.0 L125.9,243.9 L124.8,243.9 L123.8,243.8 L122.8,243.6 L121.8,243.4 L120.9,243.1 L120.0,242.8 L119.1,242.5 L118.2,242.1 L117.4,241.7 L116.6,241.2 L115.8,240.7 L115.1,240.1 L114.4,239.5 L113.7,238.9 L113.0,238.2 L112.4,237.5 L111.8,236.8 L111.2,236.0 L110.7,235.2 L110.1,234.3 L109.6,233.4 L109.2,232.6 L108.7,231.7 L108.3,230.8 L107.9,229.9 L107.5,229.0 L107.2,228.1 L106.8,227.1 L106.5,226.2 L106.3,225.2 L106.0,224.3 L105.8,223.3 L105.7,222.3 L105.6,221.4 L105.6,220.4 L105.5,219.5 L105.6,218.5 L105.6,217.4 L105.7,216.4 L105.9,215.5 L106.1,214.5 L106.3,213.6 L106.6,212.8Z" fill="none" stroke="#108a10" stroke-opacity="0.16" stroke-width="3" filter="url(#haze)"/>
<path d="M27.7,230.8 L28.2,230.2 L28.9,229.8 L29.8,229.4 L30.7,229.1 L31.7,228.8 L32.8,228.6 L33.9,228.4 L35.0,228.3 L36.1,228.2 L37.1,228.1 L38.1,228.0 L39.2,228.0 L40.3,228.0 L41.3,228.0 L42.4,228.0 L43.5,228.1 L44.6,228.3 L45.7,228.4 L46.8,228.7 L47.8,228.9 L48.8,229.2 L49.8,229.5 L50.9,229.9 L51.9,230.3 L52.9,230.8 L53.9,231.2 L54.8,231.8 L55.7,232.3 L56.5,232.9 L57.3,233.5 L58.0,234.2 L58.6,234.9 L59.2,235.6 L59.8,236.4 L60.3,237.2 L60.8,238.0 L61.2,238.9 L61.7,239.7 L62.1,240.6 L62.6,241.5 L63.1,242.4 L63.5,243.3 L64.0,244.2 L64.5,245.2 L64.9,246.2 L65.3,247.1 L65.7,248.1 L66.1,249.1 L66.4,250.0 L66.7,251.0 L67.0,252.0 L67.2,253.0 L67.5,254.0 L67.7,255.0 L67.9,256.0 L68.1,257.0 L68.2,258.0 L68.2,258.9 L68.2,259.7 L68.0,260.4 L67.8,261.0 L67.4,261.6 L67.0,262.2 L66.6,262.6 L66.1,263.1 L65.5,263.4 L64.8,263.8 L64.1,264.0 L63.4,264.2 L62.6,264.4 L61.7,264.5 L60.8,264.6 L59.8,264.6 L58.7,264.5 L57.6,264.4 L56.4,264.3 L55.3,264.1 L54.1,263.8 L53.0,263.5 L51.9,263.1 L50.8,262.6 L49.7,262.1 L48.6,261.5 L47.5,260.8 L46.3,260.0 L45.2,259.3 L44.1,258.5 L43.1,257.7 L42.1,257.0 L41.1,256.3 L40.2,255.6 L39.3,255.0 L38.4,254.4 L37.5,253.7 L36.7,253.1 L35.9,252.5 L35.2,251.8 L34.5,251.1 L33.8,250.4 L33.1,249.6 L32.5,248.8 L31.9,247.9 L31.3,247.0 L30.7,246.0 L30.2,245.1 L29.7,244.1 L29.2,243.1 L28.8,242.1 L28.5,241.2 L28.2,240.2 L27.9,239.2 L27.7,238.2 L27.4,237.2 L27.2,236.1 L27.1,235.1 L27.0,234.1 L27.0,233.1 L27.1,232.3 L27.3,231.5Z" fill="none" stroke="#108a10" stroke-opacity="0.16" stroke-width="3" filter="url(#haze)"/>
<path d="M78.8,241.5 L79.6,241.0 L80.5,240.5 L81.6,240.1 L82.7,239.7 L83.8,239.4 L85.0,239.2 L86.2,239.0 L87.3,238.9 L88.5,238.8 L89.5,238.9 L90.5,239.0 L91.5,239.3 L92.5,239.6 L93.5,240.0 L94.5,240.4 L95.4,240.9 L96.3,241.5 L97.2,242.1 L98.1,242.7 L98.9,243.4 L99.7,244.1 L100.5,244.8 L101.2,245.6 L101.9,246.5 L102.6,247.4 L103.3,248.3 L103.9,249.3 L104.5,250.2 L105.1,251.3 L105.6,252.3 L106.1,253.4 L106.6,254.5 L107.0,255.7 L107.4,256.9 L107.8,258.1 L108.1,259.4 L108.4,260.7 L108.6,261.9 L108.8,263.2 L108.9,264.4 L108.9,265.6 L108.9,266.9 L108.9,268.2 L108.7,269.4 L108.6,270.7 L108.4,271.9 L108.1,273.2 L107.8,274.3 L107.4,275.5 L107.0,276.5 L106.5,277.5 L106.0,278.5 L105.5,279.4 L104.9,280.3 L104.2,281.1 L103.5,281.9 L102.8,282.7 L102.0,283.4 L101.2,284.0 L100.3,284.6 L99.4,285.1 L98.4,285.6 L97.3,286.0 L96.2,286.4 L95.1,286.7 L93.9,286.9 L92.8,287.1 L91.6,287.2 L90.5,287.2 L89.5,287.2 L88.5,287.1 L87.5,286.9 L86.5,286.7 L85.4,286.3 L84.5,286.0 L83.5,285.5 L82.6,285.0 L81.7,284.5 L80.9,283.8 L80.1,283.2 L79.4,282.5 L78.7,281.7 L78.1,280.9 L77.5,280.0 L76.9,279.0 L76.4,278.0 L75.9,277.0 L75.5,275.9 L75.1,274.9 L74.7,273.8 L74.4,272.7 L74.0,271.6 L73.8,270.4 L73.5,269.2 L73.3,267.9 L73.1,266.7 L73.0,265.4 L72.9,264.2 L72.8,262.9 L72.8,261.7 L72.8,260.5 L72.9,259.2 L73.0,257.9 L73.2,256.7 L73.4,255.4 L73.6,254.2 L73.8,252.9 L74.1,251.8 L74.4,250.6 L74.7,249.6 L75.0,248.6 L75.3,247.6 L75.6,246.7 L75.9,245.8 L76.2,245.0 L76.6,244.2 L77.0,243.4 L77.5,242.7 L78.1,242.1Z" fill="none" stroke="#108a10" stroke-opacity="0.16" stroke-width="3" filter="url(#haze)"/>
</g>
<g clip-path="url(#cp2)">
<path d="M185.5,198.5 L185.9,197.7 L186.3,196.8 L186.8,196.0 L187.2,195.1 L187.7,194.2 L188.3,193.4 L188.9,192.6 L189.5,191.8 L190.2,191.1 L190.9,190.5 L191.7,189.9 L192.5,189.3 L193.5,188.8 L194.4,188.3 L195.4,187.9 L196.4,187.5 L197.4,187.1 L198.4,186.8 L199.4,186.6 L200.3,186.4 L201.2,186.3 L202.0,186.2 L202.9,186.2 L203.7,186.3 L204.6,186.4 L205.4,186.6 L206.2,186.8 L206.9,187.1 L207.7,187.4 L208.4,187.8 L209.1,188.2 L209.8,188.8 L210.5,189.3 L211.2,190.0 L211.8,190.7 L212.5,191.4 L213.1,192.1 L213.6,192.9 L214.1,193.7 L214.6,194.5 L215.0,195.3 L215.4,196.2 L215.8,197.1 L216.2,198.1 L216.5,199.0 L216.7,200.0 L217.0,201.0 L217.1,202.0 L217.2,202.9 L217.3,203.9 L217.3,204.9 L217.2,205.8 L217.1,206.8 L217.0,207.8 L216.8,208.8 L216.5,209.7 L216.2,210.7 L215.9,211.6 L215.5,212.5 L215.1,213.3 L214.6,214.1 L214.1,214.9 L213.5,215.6 L212.9,216.4 L212.2,217.1 L211.5,217.7 L210.8,218.4 L210.0,219.0 L209.2,219.5 L208.4,220.0 L207.6,220.4 L206.7,220.9 L205.7,221.2 L204.8,221.6 L203.8,221.8 L202.8,222.1 L201.8,222.3 L200.8,222.5 L199.9,222.6 L199.0,222.7 L198.1,222.8 L197.3,222.8 L196.4,222.7 L195.5,222.7 L194.7,222.6 L193.9,222.4 L193.1,222.2 L192.3,222.0 L191.6,221.7 L190.9,221.4 L190.2,221.0 L189.6,220.6 L189.0,220.2 L188.4,219.7 L187.8,219.2 L187.3,218.6 L186.8,218.0 L186.3,217.4 L185.9,216.7 L185.5,216.0 L185.1,215.2 L184.8,214.4 L184.5,213.4 L184.2,212.5 L184.0,211.5 L183.8,210.5 L183.6,209.5 L183.5,208.5 L183.4,207.5 L183.4,206.6 L183.4,205.7 L183.5,204.9 L183.6,204.1 L183.8,203.3 L184.0,202.5 L184.2,201.7 L184.5,200.9 L184.8,200.1 L185.1,199.3Z" fill="none" stroke="#b01008" stroke-opacity="0.25" stroke-width="3" filter="url(#haze)"/>
<path d="M232.6,212.0 L233.0,211.3 L233.5,210.6 L234.1,210.0 L234.7,209.4 L235.4,208.8 L236.1,208.3 L236.8,207.8 L237.6,207.4 L238.4,207.0 L239.3,206.6 L240.2,206.3 L241.2,205.9 L242.2,205.7 L243.3,205.4 L244.4,205.2 L245.6,205.0 L246.7,204.9 L247.9,204.8 L249.0,204.7 L250.1,204.7 L251.2,204.7 L252.3,204.8 L253.4,204.9 L254.4,205.1 L255.5,205.3 L256.6,205.5 L257.7,205.8 L258.7,206.0 L259.8,206.3 L260.8,206.6 L261.8,206.9 L262.8,207.2 L263.9,207.6 L264.9,207.9 L265.9,208.3 L266.8,208.7 L267.8,209.1 L268.6,209.6 L269.5,210.1 L270.2,210.6 L270.9,211.1 L271.5,211.7 L272.1,212.3 L272.6,212.9 L273.1,213.5 L273.5,214.2 L273.9,214.9 L274.3,215.7 L274.5,216.5 L274.8,217.4 L275.0,218.4 L275.2,219.5 L275.3,220.7 L275.4,222.0 L275.5,223.3 L275.4,224.6 L275.4,225.9 L275.3,227.2 L275.1,228.4 L274.8,229.5 L274.5,230.6 L274.1,231.6 L273.6,232.7 L273.1,233.7 L272.5,234.7 L271.9,235.6 L271.2,236.5 L270.5,237.4 L269.7,238.2 L268.9,238.9 L268.0,239.6 L267.1,240.2 L266.0,240.8 L264.9,241.3 L263.8,241.7 L262.6,242.2 L261.5,242.5 L260.3,242.9 L259.2,243.2 L258.1,243.4 L257.0,243.6 L255.9,243.8 L254.8,243.9 L253.7,243.9 L252.6,244.0 L251.5,243.9 L250.4,243.9 L249.4,243.8 L248.4,243.6 L247.4,243.4 L246.5,243.1 L245.6,242.8 L244.7,242.5 L243.8,242.1 L243.0,241.7 L242.2,241.2 L241.4,240.7 L240.7,240.1 L240.0,239.5 L239.3,238.9 L238.6,238.2 L238.0,237.5 L237.4,236.8 L236.8,236.0 L236.3,235.2 L235.7,234.3 L235.2,233.4 L234.8,232.6 L234.3,231.7 L233.9,230.8 L233.5,229.9 L233.1,229.0 L232.8,228.1 L232.4,227.1 L232.1,226.2 L231.9,225.2 L231.6,224.3 L231.4,223.3 L231.3,222.3 L231.2,221.4 L231.2,220.4 L231.1,219.5 L231.2,218.5 L231.2,217.4 L231.3,216.4 L231.5,215.5 L231.7,214.5 L231.9,213.6 L232.2,212.8Z" fill="none" stroke="#b01008" stroke-opacity="0.25" stroke-width="3" filter="url(#haze)"/>
<path d="M153.3,230.8 L153.8,230.2 L154.5,229.8 L155.4,229.4 L156.3,229.1 L157.3,228.8 L158.4,228.6 L159.5,228.4 L160.6,228.3 L161.7,228.2 L162.7,228.1 L163.7,228.0 L164.8,228.0 L165.9,228.0 L166.9,228.0 L168.0,228.0 L169.1,228.1 L170.2,228.3 L171.3,228.4 L172.4,228.7 L173.4,228.9 L174.4,229.2 L175.4,229.5 L176.5,229.9 L177.5,230.3 L178.5,230.8 L179.5,231.2 L180.4,231.8 L181.3,232.3 L182.1,232.9 L182.9,233.5 L183.6,234.2 L184.2,234.9 L184.8,235.6 L185.4,236.4 L185.9,237.2 L186.4,238.0 L186.8,238.9 L187.3,239.7 L187.7,240.6 L188.2,241.5 L188.7,242.4 L189.1,243.3 L189.6,244.2 L190.1,245.2 L190.5,246.2 L190.9,247.1 L191.3,248.1 L191.7,249.1 L192.0,250.0 L192.3,251.0 L192.6,252.0 L192.8,253.0 L193.1,254.0 L193.3,255.0 L193.5,256.0 L193.7,257.0 L193.8,258.0 L193.8,258.9 L193.8,259.7 L193.6,260.4 L193.4,261.0 L193.0,261.6 L192.6,262.2 L192.2,262.6 L191.7,263.1 L191.1,263.4 L190.4,263.8 L189.7,264.0 L189.0,264.2 L188.2,264.4 L187.3,264.5 L186.4,264.6 L185.4,264.6 L184.3,264.5 L183.2,264.4 L182.0,264.3 L180.9,264.1 L179.7,263.8 L178.6,263.5 L177.5,263.1 L176.4,262.6 L175.3,262.1 L174.2,261.5 L173.1,260.8 L171.9,260.0 L170.8,259.3 L169.7,258.5 L168.7,257.7 L167.7,257.0 L166.7,256.3 L165.8,255.6 L164.9,255.0 L164.0,254.4 L163.1,253.7 L162.3,253.1 L161.5,252.5 L160.8,251.8 L160.1,251.1 L159.4,250.4 L158.7,249.6 L158.1,248.8 L157.5,247.9 L156.9,247.0 L156.3,246.0 L155.8,245.1 L155.3,244.1 L154.8,243.1 L154.4,242.1 L154.1,241.2 L153.8,240.2 L153.5,239.2 L153.3,238.2 L153.0,237.2 L152.8,236.1 L152.7,235.1 L152.6,234.1 L152.6,233.1 L152.7,232.3 L152.9,231.5Z" fill="none" stroke="#b01008" stroke-opacity="0.25" stroke-width="3" filter="url(#haze)"/>
<path d="M204.4,241.5 L205.2,241.0 L206.1,240.5 L207.2,240.1 L208.3,239.7 L209.4,239.4 L210.6,239.2 L211.8,239.0 L212.9,238.9 L214.1,238.8 L215.1,238.9 L216.1,239.0 L217.1,239.3 L218.1,239.6 L219.1,240.0 L220.1,240.4 L221.0,240.9 L221.9,241.5 L222.8,242.1 L223.7,242.7 L224.5,243.4 L225.3,244.1 L226.1,244.8 L226.8,245.6 L227.5,246.5 L228.2,247.4 L228.9,248.3 L229.5,249.3 L230.1,250.2 L230.7,251.3 L231.2,252.3 L231.7,253.4 L232.2,254.5 L232.6,255.7 L233.0,256.9 L233.4,258.1 L233.7,259.4 L234.0,260.7 L234.2,261.9 L234.4,263.2 L234.5,264.4 L234.5,265.6 L234.5,266.9 L234.5,268.2 L234.3,269.4 L234.2,270.7 L234.0,271.9 L233.7,273.2 L233.4,274.3 L233.0,275.5 L232.6,276.5 L232.1,277.5 L231.6,278.5 L231.1,279.4 L230.5,280.3 L229.8,281.1 L229.1,281.9 L228.4,282.7 L227.6,283.4 L226.8,284.0 L225.9,284.6 L225.0,285.1 L224.0,285.6 L222.9,286.0 L221.8,286.4 L220.7,286.7 L219.5,286.9 L218.4,287.1 L217.2,287.2 L216.1,287.2 L215.1,287.2 L214.1,287.1 L213.1,286.9 L212.1,286.7 L211.0,286.3 L210.1,286.0 L209.1,285.5 L208.2,285.0 L207.3,284.5 L206.5,283.8 L205.7,283.2 L205.0,282.5 L204.3,281.7 L203.7,280.9 L203.1,280.0 L202.5,279.0 L202.0,278.0 L201.5,277.0 L201.1,275.9 L200.7,274.9 L200.3,273.8 L200.0,272.7 L199.6,271.6 L199.4,270.4 L199.1,269.2 L198.9,267.9 L198.7,266.7 L198.6,265.4 L198.5,264.2 L198.4,262.9 L198.4,261.7 L198.4,260.5 L198.5,259.2 L198.6,257.9 L198.8,256.7 L199.0,255.4 L199.2,254.2 L199.4,252.9 L199.7,251.8 L200.0,250.6 L200.3,249.6 L200.6,248.6 L200.9,247.6 L201.2,246.7 L201.5,245.8 L201.8,245.0 L202.2,244.2 L202.6,243.4 L203.1,242.7 L203.7,242.1Z" fill="none" stroke="#b01008" stroke-opacity="0.25" stroke-width="3" filter="url(#haze)"/>
</g>
<g clip-path="url(#cp3)">
<path d="M310.5,198.5 L310.9,197.7 L311.3,196.8 L311.8,196.0 L312.2,195.1 L312.7,194.2 L313.3,193.4 L313.9,192.6 L314.5,191.8 L315.2,191.1 L315.9,190.5 L316.7,189.9 L317.5,189.3 L318.5,188.8 L319.4,188.3 L320.4,187.9 L321.4,187.5 L322.4,187.1 L323.4,186.8 L324.4,186.6 L325.3,186.4 L326.2,186.3 L327.0,186.2 L327.9,186.2 L328.7,186.3 L329.6,186.4 L330.4,186.6 L331.2,186.8 L331.9,187.1 L332.7,187.4 L333.4,187.8 L334.1,188.2 L334.8,188.8 L335.5,189.3 L336.2,190.0 L336.8,190.7 L337.5,191.4 L338.1,192.1 L338.6,192.9 L339.1,193.7 L339.6,194.5 L340.0,195.3 L340.4,196.2 L340.8,197.1 L341.2,198.1 L341.5,199.0 L341.7,200.0 L342.0,201.0 L342.1,202.0 L342.2,202.9 L342.3,203.9 L342.3,204.9 L342.2,205.8 L342.1,206.8 L342.0,207.8 L341.8,208.8 L341.5,209.7 L341.2,210.7 L340.9,211.6 L340.5,212.5 L340.1,213.3 L339.6,214.1 L339.1,214.9 L338.5,215.6 L337.9,216.4 L337.2,217.1 L336.5,217.7 L335.8,218.4 L335.0,219.0 L334.2,219.5 L333.4,220.0 L332.6,220.4 L331.7,220.9 L330.7,221.2 L329.8,221.6 L328.8,221.8 L327.8,222.1 L326.8,222.3 L325.8,222.5 L324.9,222.6 L324.0,222.7 L323.1,222.8 L322.3,222.8 L321.4,222.7 L320.5,222.7 L319.7,222.6 L318.9,222.4 L318.1,222.2 L317.3,222.0 L316.6,221.7 L315.9,221.4 L315.2,221.0 L314.6,220.6 L314.0,220.2 L313.4,219.7 L312.8,219.2 L312.3,218.6 L311.8,218.0 L311.3,217.4 L310.9,216.7 L310.5,216.0 L310.1,215.2 L309.8,214.4 L309.5,213.4 L309.2,212.5 L309.0,211.5 L308.8,210.5 L308.6,209.5 L308.5,208.5 L308.4,207.5 L308.4,206.6 L308.4,205.7 L308.5,204.9 L308.6,204.1 L308.8,203.3 L309.0,202.5 L309.2,201.7 L309.5,200.9 L309.8,200.1 L310.1,199.3Z" fill="none" stroke="#b05008" stroke-opacity="0.2" stroke-width="3" filter="url(#haze)"/>
<path d="M357.6,212.0 L358.0,211.3 L358.5,210.6 L359.1,210.0 L359.7,209.4 L360.4,208.8 L361.1,208.3 L361.8,207.8 L362.6,207.4 L363.4,207.0 L364.3,206.6 L365.2,206.3 L366.2,205.9 L367.2,205.7 L368.3,205.4 L369.5,205.2 L370.6,205.0 L371.7,204.9 L372.9,204.8 L374.0,204.7 L375.1,204.7 L376.2,204.7 L377.3,204.8 L378.4,204.9 L379.4,205.1 L380.5,205.3 L381.6,205.5 L382.7,205.8 L383.7,206.0 L384.8,206.3 L385.8,206.6 L386.8,206.9 L387.8,207.2 L388.9,207.6 L389.9,207.9 L390.9,208.3 L391.8,208.7 L392.8,209.1 L393.6,209.6 L394.5,210.1 L395.2,210.6 L395.9,211.1 L396.5,211.7 L397.1,212.3 L397.6,212.9 L398.1,213.5 L398.5,214.2 L398.9,214.9 L399.3,215.7 L399.5,216.5 L399.8,217.4 L400.0,218.4 L400.2,219.5 L400.3,220.7 L400.4,222.0 L400.5,223.3 L400.4,224.6 L400.4,225.9 L400.3,227.2 L400.1,228.4 L399.8,229.5 L399.5,230.6 L399.1,231.6 L398.6,232.7 L398.1,233.7 L397.5,234.7 L396.9,235.6 L396.2,236.5 L395.5,237.4 L394.7,238.2 L393.9,238.9 L393.0,239.6 L392.1,240.2 L391.0,240.8 L389.9,241.3 L388.8,241.7 L387.6,242.2 L386.5,242.5 L385.3,242.9 L384.2,243.2 L383.1,243.4 L382.0,243.6 L380.9,243.8 L379.8,243.9 L378.7,243.9 L377.6,244.0 L376.5,243.9 L375.4,243.9 L374.4,243.8 L373.4,243.6 L372.4,243.4 L371.5,243.1 L370.6,242.8 L369.7,242.5 L368.8,242.1 L368.0,241.7 L367.2,241.2 L366.4,240.7 L365.7,240.1 L365.0,239.5 L364.3,238.9 L363.6,238.2 L363.0,237.5 L362.4,236.8 L361.8,236.0 L361.3,235.2 L360.7,234.3 L360.2,233.4 L359.8,232.6 L359.3,231.7 L358.9,230.8 L358.5,229.9 L358.1,229.0 L357.8,228.1 L357.4,227.1 L357.1,226.2 L356.9,225.2 L356.6,224.3 L356.4,223.3 L356.3,222.3 L356.2,221.4 L356.2,220.4 L356.1,219.5 L356.2,218.5 L356.2,217.4 L356.3,216.4 L356.5,215.5 L356.7,214.5 L356.9,213.6 L357.2,212.8Z" fill="none" stroke="#b05008" stroke-opacity="0.2" stroke-width="3" filter="url(#haze)"/>
<path d="M278.3,230.8 L278.8,230.2 L279.5,229.8 L280.4,229.4 L281.3,229.1 L282.3,228.8 L283.4,228.6 L284.5,228.4 L285.6,228.3 L286.7,228.2 L287.7,228.1 L288.7,228.0 L289.8,228.0 L290.9,228.0 L291.9,228.0 L293.0,228.0 L294.1,228.1 L295.2,228.3 L296.3,228.4 L297.4,228.7 L298.4,228.9 L299.4,229.2 L300.4,229.5 L301.5,229.9 L302.5,230.3 L303.5,230.8 L304.5,231.2 L305.4,231.8 L306.3,232.3 L307.1,232.9 L307.9,233.5 L308.6,234.2 L309.2,234.9 L309.8,235.6 L310.4,236.4 L310.9,237.2 L311.4,238.0 L311.8,238.9 L312.3,239.7 L312.7,240.6 L313.2,241.5 L313.7,242.4 L314.1,243.3 L314.6,244.2 L315.1,245.2 L315.5,246.2 L315.9,247.1 L316.3,248.1 L316.7,249.1 L317.0,250.0 L317.3,251.0 L317.6,252.0 L317.8,253.0 L318.1,254.0 L318.3,255.0 L318.5,256.0 L318.7,257.0 L318.8,258.0 L318.8,258.9 L318.8,259.7 L318.6,260.4 L318.4,261.0 L318.0,261.6 L317.6,262.2 L317.2,262.6 L316.7,263.1 L316.1,263.4 L315.4,263.8 L314.7,264.0 L314.0,264.2 L313.2,264.4 L312.3,264.5 L311.4,264.6 L310.4,264.6 L309.3,264.5 L308.2,264.4 L307.0,264.3 L305.9,264.1 L304.7,263.8 L303.6,263.5 L302.5,263.1 L301.4,262.6 L300.3,262.1 L299.2,261.5 L298.1,260.8 L296.9,260.0 L295.8,259.3 L294.7,258.5 L293.7,257.7 L292.7,257.0 L291.7,256.3 L290.8,255.6 L289.9,255.0 L289.0,254.4 L288.1,253.7 L287.3,253.1 L286.5,252.5 L285.8,251.8 L285.1,251.1 L284.4,250.4 L283.7,249.6 L283.1,248.8 L282.5,247.9 L281.9,247.0 L281.3,246.0 L280.8,245.1 L280.3,244.1 L279.8,243.1 L279.4,242.1 L279.1,241.2 L278.8,240.2 L278.5,239.2 L278.3,238.2 L278.0,237.2 L277.8,236.1 L277.7,235.1 L277.6,234.1 L277.6,233.1 L277.7,232.3 L277.9,231.5Z" fill="none" stroke="#b05008" stroke-opacity="0.2" stroke-width="3" filter="url(#haze)"/>
<path d="M329.4,241.5 L330.2,241.0 L331.1,240.5 L332.2,240.1 L333.3,239.7 L334.4,239.4 L335.6,239.2 L336.8,239.0 L337.9,238.9 L339.1,238.8 L340.1,238.9 L341.1,239.0 L342.1,239.3 L343.1,239.6 L344.1,240.0 L345.1,240.4 L346.0,240.9 L346.9,241.5 L347.8,242.1 L348.7,242.7 L349.5,243.4 L350.3,244.1 L351.1,244.8 L351.8,245.6 L352.5,246.5 L353.2,247.4 L353.9,248.3 L354.5,249.3 L355.1,250.2 L355.7,251.3 L356.2,252.3 L356.7,253.4 L357.2,254.5 L357.6,255.7 L358.0,256.9 L358.4,258.1 L358.7,259.4 L359.0,260.7 L359.2,261.9 L359.4,263.2 L359.5,264.4 L359.5,265.6 L359.5,266.9 L359.5,268.2 L359.3,269.4 L359.2,270.7 L359.0,271.9 L358.7,273.2 L358.4,274.3 L358.0,275.5 L357.6,276.5 L357.1,277.5 L356.6,278.5 L356.1,279.4 L355.5,280.3 L354.8,281.1 L354.1,281.9 L353.4,282.7 L352.6,283.4 L351.8,284.0 L350.9,284.6 L350.0,285.1 L349.0,285.6 L347.9,286.0 L346.8,286.4 L345.7,286.7 L344.5,286.9 L343.4,287.1 L342.2,287.2 L341.1,287.2 L340.1,287.2 L339.1,287.1 L338.1,286.9 L337.1,286.7 L336.0,286.3 L335.1,286.0 L334.1,285.5 L333.2,285.0 L332.3,284.5 L331.5,283.8 L330.7,283.2 L330.0,282.5 L329.3,281.7 L328.7,280.9 L328.1,280.0 L327.5,279.0 L327.0,278.0 L326.5,277.0 L326.1,275.9 L325.7,274.9 L325.3,273.8 L325.0,272.7 L324.6,271.6 L324.4,270.4 L324.1,269.2 L323.9,267.9 L323.7,266.7 L323.6,265.4 L323.5,264.2 L323.4,262.9 L323.4,261.7 L323.4,260.5 L323.5,259.2 L323.6,257.9 L323.8,256.7 L324.0,255.4 L324.2,254.2 L324.4,252.9 L324.7,251.8 L325.0,250.6 L325.3,249.6 L325.6,248.6 L325.9,247.6 L326.2,246.7 L326.5,245.8 L326.8,245.0 L327.2,244.2 L327.6,243.4 L328.1,242.7 L328.7,242.1Z" fill="none" stroke="#b05008" stroke-opacity="0.2" stroke-width="3" filter="url(#haze)"/>
</g>
<g filter="url(#soft)">
<path d="M60.7 194.1h0M63.1 193.3h0M65.3 191.1h0M65.6 190.0h0M71.9 187.2h0M73.2 187.7h0M73.8 186.8h0M86.9 190.4h0M87.8 190.4h0M89.6 194.6h0M86.1 196.1h0M88.2 198.0h0M88.6 201.4h0M91.3 205.1h0M90.0 213.3h0M86.2 216.0h0M85.8 219.8h0M83.4 221.1h0M79.6 221.3h0M78.2 220.1h0M77.5 222.9h0M73.0 222.8h0M68.6 218.8h0M58.6 215.3h0M62.0 210.6h0M56.3 209.1h0M59.9 205.7h0M58.0 204.1h0M83.1 198.8h0M67.4 211.1h0M75.3 193.5h0M82.1 208.6h0M81.5 199.5h0M78.1 194.2h0M67.2 202.5h0M66.4 217.6h0M88.0 203.1h0M87.5 199.0h0M86.5 206.7h0M68.8 212.0h0M74.9 193.5h0M78.9 205.2h0M76.3 208.6h0M84.9 210.8h0M71.0 210.0h0M70.5 207.2h0M81.9 213.1h0M74.6 200.1h0M80.0 214.2h0M61.1 202.4h0M69.2 192.6h0M73.1 219.4h0M79.5 194.5h0M73.9 196.0h0M106.7 210.0h0M112.8 209.5h0M117.4 208.9h0M120.5 207.7h0M127.1 205.9h0M130.3 204.6h0M131.5 203.6h0M131.7 205.2h0M132.1 208.0h0M137.1 212.2h0M146.5 212.4h0M146.6 214.4h0M146.8 216.2h0M146.1 232.7h0M144.4 236.7h0M139.4 239.0h0M139.7 242.3h0M134.7 238.9h0M133.8 241.2h0M133.8 242.6h0M131.8 239.6h0M128.1 243.6h0M126.9 243.5h0M123.8 241.2h0M121.6 244.0h0M120.2 243.3h0M119.2 245.0h0M118.0 243.2h0M109.4 230.9h0M105.7 224.0h0M109.6 223.8h0M107.0 221.3h0M102.9 217.0h0M107.0 213.0h0M104.4 210.8h0M123.1 217.0h0M128.3 211.5h0M127.3 232.8h0M113.9 218.2h0M145.7 221.8h0M126.6 229.5h0M125.4 227.9h0M130.6 232.6h0M116.5 214.6h0M135.9 236.9h0M136.0 227.3h0M124.1 229.6h0M137.6 218.6h0M136.6 212.4h0M137.8 211.1h0M123.5 231.7h0M134.4 233.8h0M119.1 231.3h0M124.6 235.9h0M122.1 223.9h0M144.0 224.7h0M130.5 218.9h0M116.2 219.9h0M115.7 217.8h0M126.6 231.9h0M110.2 225.1h0M113.4 224.3h0M30.1 232.6h0M32.9 233.1h0M31.8 226.3h0M43.3 227.6h0M44.1 230.2h0M42.7 226.0h0M48.6 233.1h0M50.3 230.9h0M54.3 232.2h0M54.9 230.2h0M57.2 230.8h0M58.9 235.8h0M57.8 239.9h0M64.2 246.5h0M67.4 253.3h0M64.5 254.0h0M64.5 265.0h0M63.2 266.5h0M55.5 263.3h0M47.9 262.5h0M47.6 261.6h0M46.8 260.7h0M42.1 256.0h0M37.8 255.1h0M33.6 250.1h0M34.3 248.0h0M27.1 242.8h0M30.0 242.2h0M29.8 241.5h0M32.4 240.4h0M27.9 237.1h0M26.6 232.9h0M26.5 231.6h0M36.8 238.0h0M50.4 232.5h0M43.3 243.4h0M48.0 233.5h0M42.8 247.1h0M50.0 258.8h0M49.6 234.7h0M48.0 250.0h0M59.0 243.6h0M44.6 232.6h0M51.4 243.3h0M45.2 239.9h0M55.4 237.1h0M39.7 248.8h0M52.5 255.4h0M59.6 256.6h0M38.4 238.4h0M59.1 246.8h0M31.4 240.0h0M34.9 236.8h0M57.0 253.7h0M47.2 235.3h0M49.5 250.0h0M51.0 242.1h0M55.1 243.7h0M51.8 240.3h0M83.9 238.9h0M88.0 238.3h0M91.0 238.2h0M91.8 245.4h0M93.3 239.1h0M96.3 246.9h0M99.5 241.7h0M96.1 246.8h0M98.3 244.1h0M98.6 246.5h0M102.0 245.1h0M101.5 251.3h0M104.5 250.9h0M104.4 254.3h0M105.5 267.3h0M107.6 273.0h0M103.4 273.4h0M103.7 274.3h0M106.2 281.2h0M101.4 277.4h0M103.9 284.5h0M99.4 284.5h0M96.7 285.8h0M96.5 287.2h0M92.7 282.6h0M88.2 282.3h0M87.7 283.1h0M85.7 283.3h0M85.5 283.3h0M80.4 286.2h0M79.4 284.0h0M79.8 277.0h0M77.0 277.3h0M75.4 273.9h0M75.4 273.1h0M75.5 271.4h0M77.4 267.4h0M73.5 264.9h0M74.4 254.1h0M73.1 248.3h0M77.5 251.1h0M76.9 244.5h0M84.8 254.1h0M90.3 257.4h0M89.8 275.1h0M86.4 261.8h0M83.9 254.2h0M77.5 252.8h0M97.9 279.6h0M84.6 269.2h0M96.3 252.4h0M81.7 255.7h0M97.6 261.4h0M99.9 272.0h0M84.2 275.9h0M81.2 268.2h0M100.6 265.3h0M77.3 262.1h0M82.9 259.0h0M92.3 258.1h0M90.8 273.1h0M85.3 249.2h0M95.8 265.8h0M80.1 258.5h0M93.4 267.0h0M78.2 250.5h0M79.1 256.1h0M83.9 270.5h0M95.6 249.5h0" stroke="#20c020" stroke-opacity="0.25" stroke-width="1.0" stroke-linecap="round" fill="none"/>
<path d="M61.7 193.3h0M64.7 192.5h0M66.5 189.0h0M74.0 188.9h0M82.4 187.2h0M81.3 189.9h0M86.9 194.9h0M91.3 201.4h0M90.1 202.9h0M87.8 213.1h0M85.7 217.9h0M83.4 218.9h0M72.7 223.7h0M69.6 220.8h0M64.7 219.8h0M59.8 217.9h0M63.1 212.9h0M61.8 210.3h0M57.8 210.2h0M58.5 205.0h0M58.5 204.1h0M111.9 213.0h0M111.0 209.0h0M125.4 203.3h0M126.8 205.0h0M131.0 209.2h0M137.5 211.5h0M140.6 213.4h0M144.6 219.2h0M143.4 233.5h0M141.9 237.3h0M141.0 239.6h0M130.6 243.9h0M124.4 243.8h0M123.3 242.5h0M120.0 244.4h0M113.4 240.1h0M113.0 239.8h0M114.8 233.0h0M110.9 235.2h0M107.8 226.1h0M107.7 225.9h0M105.1 218.5h0M107.3 216.2h0M104.7 214.1h0M38.6 228.7h0M39.5 228.4h0M42.6 232.6h0M50.9 229.3h0M56.6 235.7h0M64.1 246.1h0M64.8 246.4h0M69.1 248.3h0M65.2 248.9h0M65.8 248.5h0M66.6 250.6h0M67.5 252.7h0M63.6 262.7h0M62.0 260.6h0M60.6 264.0h0M51.8 262.9h0M51.0 262.9h0M46.3 259.0h0M42.9 255.5h0M40.9 255.1h0M27.8 238.7h0M27.1 233.4h0M80.0 241.1h0M85.5 238.7h0M95.9 246.2h0M102.8 246.7h0M103.5 250.8h0M103.7 255.0h0M109.9 254.7h0M107.9 266.5h0M108.2 269.7h0M109.6 275.2h0M104.4 274.4h0M104.4 279.9h0M102.2 285.2h0M98.2 284.3h0M96.3 288.9h0M91.1 286.8h0M90.0 285.3h0M85.5 286.8h0M80.4 284.4h0M82.2 278.8h0M74.4 274.9h0M74.8 271.6h0M77.4 264.6h0M74.4 260.3h0M73.5 258.9h0M73.6 257.7h0M74.0 256.6h0M76.0 244.6h0" stroke="#20c020" stroke-opacity="0.25" stroke-width="1.4" stroke-linecap="round" fill="none"/>
<path d="M68.2 189.8h0M91.1 196.7h0M87.3 210.9h0M84.9 214.2h0M75.8 220.6h0M120.7 203.6h0M128.2 205.4h0M140.2 208.1h0M139.0 211.7h0M146.8 225.8h0M137.8 236.9h0M136.4 241.0h0M133.6 241.8h0M132.7 243.9h0M129.8 242.2h0M116.6 243.4h0M117.0 242.1h0M117.0 240.3h0M110.9 239.3h0M113.0 228.0h0M104.8 220.1h0M103.0 212.3h0M31.4 230.6h0M33.4 229.1h0M38.3 228.2h0M41.7 227.4h0M66.1 262.1h0M93.9 245.4h0M96.1 242.9h0M107.8 261.5h0M95.8 286.0h0M94.6 286.2h0M73.9 267.0h0M72.0 262.3h0M74.7 252.0h0M75.9 247.1h0" stroke="#20c020" stroke-opacity="0.5" stroke-width="1.0" stroke-linecap="round" fill="none"/>
<path d="M68.5 188.3h0M69.6 188.7h0M79.5 185.2h0M136.0 207.5h0M141.2 237.4h0M108.9 229.4h0M111.8 216.4h0M33.8 248.0h0M107.5 262.7h0M109.0 266.1h0" stroke="#28f028" stroke-opacity="1.0" stroke-width="2.2" stroke-linecap="round" fill="none"/>
<path d="M70.8 185.9h0M80.9 187.2h0M90.8 199.3h0M91.7 207.9h0M85.8 209.3h0M65.3 219.9h0M60.8 218.9h0M63.5 215.2h0M146.4 238.8h0M113.4 235.1h0M105.1 223.2h0M52.0 230.3h0M66.2 262.8h0M60.4 263.2h0M48.9 262.6h0M34.2 250.4h0M34.0 247.5h0M81.1 241.8h0M94.4 240.5h0M72.2 271.5h0M79.6 245.8h0" stroke="#28f028" stroke-opacity="0.75" stroke-width="1.4" stroke-linecap="round" fill="none"/>
<path d="M70.7 188.7h0M85.6 189.0h0M89.5 196.3h0M90.4 205.0h0M90.7 211.5h0M81.0 221.2h0M65.7 216.9h0M62.5 219.9h0M108.7 213.1h0M119.4 206.4h0M134.2 209.9h0M144.9 230.8h0M113.9 240.9h0M109.8 233.6h0M52.1 230.8h0M60.9 235.5h0M62.2 240.8h0M63.3 240.4h0M64.2 252.2h0M35.2 253.6h0M34.1 246.0h0M29.3 244.9h0M26.7 237.0h0M79.5 241.5h0M83.2 243.1h0M85.5 240.3h0M107.5 266.5h0M105.5 278.7h0M89.3 286.8h0M80.3 286.0h0M77.8 282.0h0M75.0 265.8h0M72.5 254.8h0" stroke="#20c020" stroke-opacity="0.5" stroke-width="1.4" stroke-linecap="round" fill="none"/>
<path d="M79.6 190.2h0M85.0 191.4h0M87.2 191.7h0M58.8 207.7h0M60.9 206.9h0M147.2 220.2h0M111.0 235.4h0M33.9 228.2h0M62.0 242.5h0M64.0 243.6h0M69.1 255.1h0M89.7 240.1h0M104.4 259.8h0M90.6 287.2h0M84.3 282.3h0M75.9 261.9h0M76.2 248.0h0" stroke="#28f028" stroke-opacity="0.75" stroke-width="2.2" stroke-linecap="round" fill="none"/>
<path d="M83.8 186.8h0M86.9 191.8h0M87.1 202.7h0M85.1 219.0h0M69.2 221.4h0M61.2 199.2h0M114.0 210.5h0M117.6 206.1h0M129.0 209.0h0M133.8 205.8h0M109.4 227.5h0M104.6 213.9h0M35.3 229.0h0M68.2 257.1h0M59.7 260.8h0M107.4 276.4h0M75.3 278.7h0M78.6 273.9h0M73.1 270.6h0" stroke="#28f028" stroke-opacity="0.75" stroke-width="1.8" stroke-linecap="round" fill="none"/>
<path d="M90.9 200.7h0M146.7 221.7h0M120.2 237.0h0M30.3 227.5h0M30.5 238.3h0" stroke="#28f028" stroke-opacity="1.0" stroke-width="1.8" stroke-linecap="round" fill="none"/>
<path d="M90.2 203.9h0M143.3 211.7h0M40.9 256.1h0M103.7 271.0h0" stroke="#28f028" stroke-opacity="0.5" stroke-width="1.4" stroke-linecap="round" fill="none"/>
<path d="M90.7 206.1h0M87.2 213.7h0M74.6 222.0h0M122.1 245.1h0M56.4 263.9h0M38.7 255.1h0M89.7 240.7h0M108.7 253.8h0M107.8 260.7h0" stroke="#28f028" stroke-opacity="0.5" stroke-width="1.8" stroke-linecap="round" fill="none"/>
<path d="M69.0 219.8h0M110.9 207.3h0M122.3 206.1h0M145.2 235.9h0M31.3 228.7h0M75.5 279.7h0" stroke="#28f028" stroke-opacity="0.5" stroke-width="2.2" stroke-linecap="round" fill="none"/>
<path d="M57.3 205.5h0M113.1 206.1h0M133.7 210.2h0M113.0 232.1h0M37.4 252.9h0M29.5 240.0h0M79.2 282.2h0M77.5 280.0h0" stroke="#28f028" stroke-opacity="1.0" stroke-width="1.4" stroke-linecap="round" fill="none"/>
<path d="M63.5 207.4h0M76.1 211.6h0M74.9 214.8h0M66.0 205.9h0M124.6 216.0h0M120.9 221.3h0M116.0 230.7h0M49.9 251.1h0M35.4 234.9h0M44.3 244.2h0M45.1 250.1h0M102.0 244.2h0M95.4 251.2h0M81.6 257.7h0M100.9 274.4h0" stroke="#20c020" stroke-opacity="0.15" stroke-width="1.0" stroke-linecap="round" fill="none"/>
<path d="M101.1 278.5h0" stroke="#20c020" stroke-opacity="0.15" stroke-width="1.4" stroke-linecap="round" fill="none"/>
<path d="M184.9 196.5h0M187.5 197.5h0M185.4 196.0h0M188.0 194.4h0M188.0 194.7h0M193.9 187.5h0M197.0 190.3h0M198.1 187.0h0M198.1 187.2h0M208.7 192.2h0M215.8 193.0h0M215.9 194.0h0M213.8 196.3h0M217.4 204.9h0M212.6 213.0h0M213.1 214.9h0M213.6 215.8h0M212.5 215.9h0M206.2 217.5h0M205.7 218.1h0M204.9 222.0h0M204.4 222.1h0M199.3 222.4h0M195.1 223.2h0M192.0 222.4h0M184.0 206.5h0M183.6 204.6h0M184.9 201.3h0M183.9 198.8h0M183.7 197.8h0M200.8 211.1h0M203.9 194.8h0M195.3 197.5h0M192.8 216.4h0M202.0 198.7h0M213.1 207.4h0M188.4 206.2h0M207.3 194.0h0M193.5 211.3h0M195.9 214.2h0M194.8 192.5h0M200.7 212.3h0M208.8 193.6h0M190.2 201.1h0M189.7 204.2h0M210.8 196.7h0M207.8 211.7h0M197.9 198.4h0M209.1 196.8h0M190.6 212.7h0M198.5 196.9h0M199.7 209.8h0M203.0 209.6h0M206.8 192.1h0M209.2 213.4h0M207.4 210.4h0M197.6 194.1h0M210.8 198.4h0M200.0 210.0h0M192.8 198.8h0M204.1 206.8h0M192.9 214.3h0M199.3 192.2h0M205.5 194.5h0M194.3 214.7h0M211.2 201.0h0M193.4 211.5h0M200.4 201.0h0M202.0 211.4h0M190.4 196.6h0M211.7 199.1h0M195.3 212.5h0M203.2 203.0h0M204.8 192.3h0M192.7 199.8h0M197.8 210.3h0M195.6 219.5h0M193.8 213.7h0M196.9 203.8h0M191.2 205.3h0M211.4 206.2h0M205.7 199.5h0M193.8 211.1h0M205.3 210.7h0M232.5 210.4h0M238.8 208.6h0M242.8 207.0h0M249.3 208.6h0M252.0 204.7h0M253.2 203.4h0M255.9 208.8h0M257.8 205.3h0M262.2 207.3h0M262.8 209.5h0M267.9 214.5h0M268.1 233.1h0M266.8 233.1h0M269.6 238.3h0M267.9 237.1h0M264.1 237.1h0M266.4 240.0h0M264.4 241.3h0M253.7 245.8h0M252.6 242.3h0M249.5 243.7h0M249.0 244.9h0M249.1 242.4h0M247.4 244.1h0M239.5 233.0h0M237.0 227.8h0M233.4 221.3h0M229.1 219.0h0M236.3 219.3h0M235.8 215.6h0M231.7 214.0h0M245.4 224.1h0M235.5 219.0h0M239.0 231.1h0M250.4 233.0h0M263.9 211.4h0M269.4 229.3h0M253.8 234.4h0M264.0 226.6h0M246.3 219.4h0M259.4 217.4h0M239.6 216.0h0M248.0 210.5h0M245.4 230.2h0M244.9 224.7h0M256.8 219.9h0M254.7 219.9h0M244.3 232.4h0M245.3 217.3h0M250.3 213.2h0M234.8 217.6h0M246.6 228.3h0M264.2 216.2h0M252.8 218.8h0M268.4 214.2h0M234.8 222.3h0M247.3 237.6h0M241.3 232.7h0M244.2 235.2h0M248.5 235.5h0M248.5 225.4h0M242.4 212.1h0M258.8 222.1h0M246.5 223.0h0M245.4 223.2h0M257.0 225.0h0M246.4 224.7h0M236.9 223.4h0M246.0 218.2h0M255.0 208.6h0M250.8 219.2h0M249.0 213.4h0M244.5 210.8h0M250.5 219.4h0M249.2 215.2h0M246.1 232.6h0M259.1 229.3h0M259.1 231.2h0M250.5 214.2h0M259.6 218.2h0M254.8 220.3h0M252.4 207.8h0M245.1 219.4h0M162.2 228.3h0M166.5 228.7h0M167.6 226.0h0M176.4 228.1h0M177.9 231.5h0M182.3 237.3h0M184.4 235.4h0M185.6 240.5h0M188.2 243.5h0M191.0 248.9h0M194.9 253.6h0M192.3 253.8h0M196.6 261.5h0M192.5 262.5h0M189.6 262.5h0M178.2 262.1h0M172.0 257.9h0M166.1 254.5h0M166.9 253.4h0M153.4 238.4h0M154.6 239.2h0M152.5 236.9h0M178.4 238.5h0M174.8 241.3h0M162.2 233.0h0M184.8 248.0h0M177.8 254.7h0M180.3 250.0h0M166.2 241.7h0M188.5 252.3h0M176.8 255.1h0M187.1 247.6h0M166.7 241.3h0M168.4 249.0h0M163.4 247.0h0M168.1 239.5h0M180.2 243.2h0M177.0 233.6h0M187.5 253.2h0M172.5 253.6h0M176.6 232.9h0M165.3 241.8h0M168.3 242.9h0M182.0 249.5h0M166.6 250.5h0M177.4 249.4h0M186.1 255.4h0M185.5 254.9h0M178.5 238.4h0M176.2 238.9h0M170.5 231.4h0M178.7 243.6h0M169.9 246.4h0M187.8 258.2h0M166.8 236.3h0M181.6 259.8h0M160.1 236.9h0M178.2 255.6h0M177.9 240.6h0M161.1 243.4h0M167.6 245.7h0M166.4 244.8h0M170.6 247.1h0M167.2 240.4h0M179.6 245.4h0M176.8 259.4h0M183.2 247.3h0M179.5 236.6h0M166.4 234.4h0M176.4 249.7h0M179.0 247.7h0M182.1 257.9h0M165.9 233.8h0M172.5 256.7h0M172.7 247.8h0M186.0 248.3h0M159.3 240.3h0M190.3 256.4h0M205.3 240.3h0M212.3 240.7h0M221.9 242.5h0M225.7 248.3h0M225.9 250.4h0M232.5 252.1h0M234.3 260.9h0M233.3 263.2h0M230.1 270.5h0M233.8 276.6h0M231.4 275.8h0M234.4 279.9h0M229.0 275.7h0M228.1 283.8h0M226.4 284.6h0M222.4 280.8h0M211.5 287.2h0M209.3 283.6h0M209.8 279.5h0M205.6 283.2h0M201.4 263.9h0M197.4 257.8h0M199.6 255.1h0M199.4 250.8h0M204.5 242.1h0M216.1 256.7h0M209.9 253.3h0M210.2 268.0h0M213.5 272.1h0M204.1 255.0h0M217.9 273.5h0M205.4 257.8h0M213.0 277.7h0M227.2 278.8h0M222.7 259.5h0M204.1 258.4h0M213.6 274.3h0M229.3 270.1h0M216.7 270.5h0M226.8 260.0h0M210.6 261.4h0M208.1 275.3h0M208.7 270.9h0M220.3 270.8h0M219.1 268.2h0M206.9 272.2h0M207.3 279.9h0M207.7 279.1h0M218.1 280.7h0M205.8 262.3h0M210.3 274.8h0M207.5 252.4h0M221.5 259.4h0M227.4 258.5h0M209.3 268.3h0M223.2 262.2h0M224.6 276.2h0M228.8 254.8h0M205.1 259.4h0M206.1 250.6h0M222.4 258.8h0M205.5 253.6h0M209.9 253.8h0M211.2 266.5h0M209.6 271.6h0M215.0 274.9h0M215.0 275.3h0M224.1 273.8h0M215.7 270.0h0M211.3 263.0h0M208.7 260.7h0M211.4 266.9h0" stroke="#f01008" stroke-opacity="0.25" stroke-width="1.0" stroke-linecap="round" fill="none"/>
<path d="M188.8 193.9h0M210.1 190.1h0M216.1 211.8h0M197.9 222.1h0M186.6 211.8h0M181.1 208.5h0M184.3 205.8h0M183.8 203.6h0M257.9 204.7h0M243.5 243.9h0M238.8 236.1h0M230.4 220.9h0M160.2 229.3h0M189.8 255.6h0M184.1 261.4h0M171.9 261.3h0M171.3 259.5h0M208.8 241.2h0M212.0 240.0h0M217.0 240.7h0M226.0 245.4h0M230.5 251.9h0M234.4 268.5h0M233.9 270.7h0M233.1 279.2h0M230.0 280.7h0M199.3 256.1h0M201.4 252.2h0" stroke="#ff1a10" stroke-opacity="0.75" stroke-width="2.2" stroke-linecap="round" fill="none"/>
<path d="M191.8 196.4h0M190.6 189.9h0M191.7 191.1h0M192.8 188.8h0M195.6 186.3h0M200.5 187.2h0M203.3 186.7h0M204.1 185.7h0M207.3 191.6h0M214.4 189.8h0M214.6 193.9h0M214.6 197.1h0M212.8 200.0h0M216.2 198.3h0M216.4 209.2h0M215.4 208.6h0M212.5 217.1h0M209.2 217.2h0M207.9 217.0h0M198.9 218.8h0M197.0 221.7h0M192.8 223.7h0M183.6 211.9h0M184.5 211.4h0M180.6 211.8h0M184.0 199.0h0M238.7 209.3h0M238.3 209.1h0M239.9 207.4h0M241.4 205.7h0M243.9 208.0h0M252.7 208.6h0M255.2 205.8h0M263.2 208.8h0M269.0 212.3h0M272.4 212.2h0M268.6 229.2h0M273.1 232.4h0M271.5 233.4h0M270.3 234.4h0M273.1 236.7h0M270.7 240.3h0M268.2 238.9h0M264.4 241.1h0M256.5 243.6h0M253.9 241.2h0M251.8 243.7h0M240.8 243.2h0M243.4 236.3h0M237.2 234.9h0M235.3 231.2h0M231.7 225.5h0M229.1 223.3h0M236.7 214.7h0M171.9 228.5h0M174.5 231.6h0M174.8 231.7h0M176.4 232.5h0M182.0 233.9h0M186.2 239.5h0M194.1 252.5h0M189.8 252.4h0M186.2 264.4h0M186.1 265.7h0M181.9 263.4h0M179.9 262.3h0M176.8 261.7h0M175.3 260.9h0M173.9 261.1h0M170.6 258.8h0M170.8 256.2h0M168.2 254.5h0M162.6 254.6h0M161.5 252.0h0M160.3 250.2h0M157.8 250.5h0M159.6 249.1h0M155.5 245.2h0M154.1 244.4h0M153.8 243.0h0M152.6 238.8h0M153.9 234.6h0M154.3 232.5h0M206.1 237.9h0M216.2 237.2h0M222.0 246.5h0M224.0 244.7h0M225.4 243.4h0M228.8 249.7h0M230.3 255.0h0M233.3 254.8h0M233.4 255.1h0M232.1 259.2h0M231.2 261.0h0M235.7 262.4h0M232.3 267.1h0M230.5 268.1h0M234.3 275.5h0M228.8 277.0h0M229.4 282.8h0M227.4 280.2h0M227.6 284.8h0M226.1 282.7h0M218.1 284.8h0M212.9 286.1h0M211.0 286.0h0M209.3 284.4h0M207.3 282.6h0M207.2 281.2h0M206.0 274.7h0M201.0 277.4h0M202.7 276.0h0M198.2 275.1h0M202.5 270.3h0M198.6 271.1h0M199.2 267.1h0M199.1 260.8h0M199.0 258.2h0M199.0 256.7h0M198.8 256.9h0M201.5 248.9h0" stroke="#f01008" stroke-opacity="0.25" stroke-width="1.4" stroke-linecap="round" fill="none"/>
<path d="M191.8 192.6h0M214.6 209.6h0M218.4 211.9h0M203.6 220.9h0M240.4 211.6h0M246.0 205.3h0M263.9 242.6h0M168.1 227.7h0M189.3 245.2h0M193.2 255.6h0M184.2 264.3h0M178.7 264.1h0M174.2 262.8h0M155.4 242.2h0M220.7 247.0h0M222.5 243.2h0M228.8 253.2h0M228.7 257.7h0M234.7 264.2h0M234.7 264.8h0M204.1 280.9h0M201.8 266.7h0" stroke="#ff1a10" stroke-opacity="1.0" stroke-width="1.4" stroke-linecap="round" fill="none"/>
<path d="M193.0 191.6h0M199.5 189.0h0M206.1 186.6h0M216.3 207.0h0M212.2 217.7h0M213.3 218.3h0M202.3 218.4h0M187.7 220.9h0M245.6 205.5h0M248.0 204.7h0M251.6 205.1h0M268.3 207.4h0M271.4 209.0h0M258.9 238.7h0M251.2 242.4h0M237.5 235.8h0M237.7 233.2h0M233.5 234.0h0M237.5 225.8h0M184.7 239.2h0M189.6 258.1h0M193.0 265.2h0M182.0 263.9h0M168.8 256.7h0M163.5 250.3h0M153.0 234.5h0M214.6 241.0h0M214.9 239.3h0M234.0 271.7h0M236.8 272.6h0M230.8 279.7h0M203.7 278.7h0M199.0 269.4h0M198.7 263.4h0M198.8 259.2h0" stroke="#ff1a10" stroke-opacity="0.75" stroke-width="1.8" stroke-linecap="round" fill="none"/>
<path d="M191.9 187.5h0M193.3 188.6h0M200.0 187.4h0M201.4 188.1h0M208.5 189.7h0M214.9 202.4h0M199.3 223.1h0M186.4 215.8h0M181.4 209.3h0M244.3 207.6h0M256.0 207.2h0M260.0 206.7h0M261.5 206.5h0M266.6 209.3h0M259.2 240.8h0M247.2 243.3h0M245.7 244.8h0M240.2 237.7h0M233.1 230.3h0M184.2 232.9h0M185.7 264.5h0M168.5 258.4h0M162.7 252.4h0M161.5 248.6h0M154.6 248.2h0M156.3 246.0h0M156.4 245.7h0M155.3 244.1h0M154.2 237.1h0M225.4 245.9h0M232.5 276.5h0M227.0 285.0h0M217.0 286.3h0M214.9 286.9h0M213.4 286.4h0M209.4 285.9h0M202.6 281.2h0M199.5 248.2h0" stroke="#ff1a10" stroke-opacity="0.75" stroke-width="1.4" stroke-linecap="round" fill="none"/>
<path d="M197.3 192.5h0M199.9 189.3h0M206.1 191.4h0M211.2 189.9h0M217.3 200.5h0M214.3 212.8h0M205.5 222.1h0M198.9 221.9h0M184.3 203.6h0M233.9 210.0h0M246.4 209.3h0M247.6 208.0h0M273.2 214.6h0M263.4 243.4h0M260.3 244.1h0M252.0 242.4h0M243.9 241.6h0M241.4 241.5h0M240.3 238.8h0M238.6 236.9h0M237.2 232.9h0M231.9 217.3h0M161.9 230.3h0M172.3 228.2h0M191.0 242.5h0M188.9 254.7h0M193.7 262.0h0M187.2 260.7h0M221.5 244.0h0M225.3 243.4h0M228.8 252.2h0M224.9 282.4h0M197.4 270.9h0M196.4 268.8h0M203.4 248.3h0" stroke="#f01008" stroke-opacity="0.5" stroke-width="1.0" stroke-linecap="round" fill="none"/>
<path d="M204.2 189.5h0M209.0 195.1h0M206.6 217.4h0M183.5 208.1h0M240.7 205.6h0M241.8 236.0h0M230.5 217.6h0M228.9 214.9h0M159.9 231.4h0M180.8 232.3h0M184.6 239.3h0M195.0 262.5h0M176.4 262.1h0M173.3 260.4h0M166.8 256.7h0M155.9 246.7h0M223.5 287.1h0M210.5 285.5h0M199.5 249.4h0" stroke="#ff1a10" stroke-opacity="1.0" stroke-width="1.8" stroke-linecap="round" fill="none"/>
<path d="M203.6 191.0h0M169.6 229.3h0M191.0 245.1h0M217.9 240.0h0M217.6 287.0h0" stroke="#ff1a10" stroke-opacity="0.5" stroke-width="1.8" stroke-linecap="round" fill="none"/>
<path d="M205.2 186.1h0M218.5 203.6h0M214.8 211.1h0M206.8 219.4h0M272.6 215.5h0M258.4 241.3h0M256.2 239.6h0M246.5 237.9h0M232.4 229.1h0M229.8 219.7h0M165.0 229.2h0M170.4 230.5h0M184.1 241.1h0M186.0 242.2h0M192.6 256.6h0M214.5 241.4h0M233.1 267.0h0M229.9 271.0h0M221.2 285.9h0M215.4 286.8h0M202.7 271.6h0M199.0 274.2h0M199.4 263.2h0M198.7 259.4h0M202.7 250.1h0" stroke="#f01008" stroke-opacity="0.5" stroke-width="1.4" stroke-linecap="round" fill="none"/>
<path d="M210.6 192.8h0M195.7 224.9h0M264.1 208.9h0M231.1 227.7h0M233.7 216.1h0M176.4 230.4h0M181.1 263.2h0M206.8 242.5h0M223.5 283.6h0M202.5 274.1h0" stroke="#ff1a10" stroke-opacity="0.5" stroke-width="1.4" stroke-linecap="round" fill="none"/>
<path d="M215.1 201.3h0M186.8 213.3h0M184.6 209.1h0M265.0 208.8h0M241.3 240.0h0M156.9 227.1h0M185.8 234.2h0M182.6 238.8h0M209.5 238.1h0M210.6 239.0h0M232.6 259.1h0" stroke="#ff1a10" stroke-opacity="0.5" stroke-width="2.2" stroke-linecap="round" fill="none"/>
<path d="M217.0 204.8h0M216.5 206.5h0M213.4 209.9h0M201.3 219.9h0M191.9 222.2h0M189.1 217.3h0M256.6 243.5h0M233.7 234.5h0M153.8 231.1h0M177.5 231.6h0M181.8 233.3h0M181.4 236.6h0M191.4 247.9h0M191.8 264.0h0M161.3 249.7h0M230.7 246.1h0M227.9 250.3h0M221.4 286.3h0M198.9 263.2h0" stroke="#ff1a10" stroke-opacity="1.0" stroke-width="2.2" stroke-linecap="round" fill="none"/>
<path d="M202.2 208.0h0M206.0 208.4h0M201.7 201.6h0M201.8 208.8h0M201.0 209.7h0M200.3 200.4h0M260.6 239.4h0M262.0 220.8h0M270.0 229.5h0M256.9 221.9h0M248.8 236.0h0M236.8 227.8h0M241.6 231.9h0M267.3 223.3h0M268.5 215.7h0M191.4 247.5h0M173.5 249.3h0M168.8 241.0h0M184.6 245.5h0M182.5 253.9h0M229.1 249.6h0M208.8 263.2h0M228.3 253.5h0M208.1 254.1h0M204.0 251.5h0M220.4 269.2h0M202.1 256.1h0M223.4 265.5h0M212.1 266.6h0M209.1 256.2h0M230.0 256.7h0M219.0 266.1h0M202.9 257.2h0M205.8 248.9h0" stroke="#f01008" stroke-opacity="0.15" stroke-width="1.0" stroke-linecap="round" fill="none"/>
<path d="M233.0 221.9h0M167.0 231.9h0M191.0 251.6h0" stroke="#f01008" stroke-opacity="0.15" stroke-width="1.4" stroke-linecap="round" fill="none"/>
<path d="M310.6 198.4h0M314.9 196.7h0M313.7 195.6h0M317.6 191.0h0M316.7 188.1h0M333.5 219.0h0M310.0 216.2h0M356.9 205.7h0M379.6 242.7h0M369.8 238.6h0M362.9 234.7h0M356.3 213.7h0M280.7 229.7h0M284.3 230.6h0M286.1 229.7h0M287.8 227.3h0M312.6 236.4h0M311.6 238.5h0M309.5 263.1h0M284.5 252.1h0M284.0 249.6h0M279.6 239.9h0M328.7 239.1h0M333.0 239.7h0M334.7 238.8h0M335.0 237.0h0M351.7 245.2h0M351.5 245.0h0M352.6 251.5h0M357.7 255.1h0M358.0 264.3h0M355.2 276.6h0M351.8 278.7h0M341.4 281.8h0M333.2 283.0h0M324.3 268.6h0M325.4 264.5h0" stroke="#f8d000" stroke-opacity="0.25" stroke-width="1.4" stroke-linecap="round" fill="none"/>
<path d="M313.9 198.6h0M327.9 185.8h0M330.2 187.9h0M340.8 195.0h0M319.0 223.2h0M313.1 217.8h0M306.8 207.8h0M394.5 217.5h0M376.2 245.1h0M288.5 228.1h0M308.2 235.8h0M295.6 259.5h0M281.7 244.1h0M325.6 253.7h0M330.9 247.8h0" stroke="#70e020" stroke-opacity="0.25" stroke-width="1.4" stroke-linecap="round" fill="none"/>
<path d="M311.0 196.1h0M315.8 192.0h0M327.5 188.4h0M328.9 186.7h0M337.8 200.2h0M342.1 202.9h0M341.6 211.9h0M340.1 212.8h0M319.9 222.5h0M310.5 201.8h0M309.4 200.9h0M313.6 202.1h0M311.7 199.8h0M317.8 216.4h0M312.6 208.3h0M322.7 216.4h0M332.9 193.1h0M317.3 192.8h0M328.9 213.5h0M328.6 190.4h0M326.8 198.4h0M312.5 202.6h0M320.5 213.6h0M322.0 215.0h0M334.7 205.2h0M320.6 211.6h0M331.1 197.6h0M367.3 206.3h0M368.3 207.3h0M379.4 206.4h0M382.8 205.5h0M384.4 205.8h0M385.0 209.4h0M388.2 209.7h0M397.9 231.0h0M395.7 231.1h0M395.8 232.8h0M395.7 239.5h0M357.8 224.5h0M373.3 215.7h0M368.9 208.7h0M369.2 233.1h0M396.0 217.2h0M359.7 221.7h0M373.8 229.4h0M381.0 232.1h0M376.0 236.7h0M385.1 226.4h0M392.6 226.4h0M375.0 233.1h0M367.1 213.0h0M387.3 219.2h0M382.7 232.7h0M368.4 211.8h0M371.9 229.9h0M307.8 231.5h0M314.1 249.7h0M317.2 252.1h0M296.1 257.4h0M292.2 252.4h0M290.9 253.6h0M285.4 248.4h0M279.9 242.0h0M280.2 238.8h0M315.3 256.4h0M307.0 253.1h0M305.9 242.9h0M295.6 250.1h0M296.9 252.0h0M297.4 254.1h0M302.3 245.1h0M290.4 237.3h0M296.5 247.8h0M285.4 247.4h0M299.1 242.1h0M293.4 244.1h0M311.3 244.4h0M306.3 237.4h0M305.9 245.6h0M302.3 259.2h0M296.8 240.4h0M332.4 244.2h0M334.7 240.0h0M342.3 242.1h0M354.3 259.8h0M360.2 260.0h0M360.0 260.6h0M359.7 268.1h0M353.4 282.9h0M343.2 285.6h0M340.0 281.3h0M331.0 275.9h0M328.4 274.6h0M326.8 270.4h0M324.1 262.3h0M324.7 257.1h0M323.7 255.6h0M324.0 255.1h0M341.2 270.8h0M347.5 251.2h0M333.1 277.3h0M331.9 277.3h0M345.4 254.3h0M335.6 255.7h0M354.3 270.9h0M339.4 277.8h0M334.8 273.3h0M327.1 257.6h0M326.7 263.4h0M336.7 265.6h0M338.6 249.8h0M333.8 262.2h0M334.0 274.7h0M332.6 252.5h0M334.9 262.6h0M348.9 252.8h0" stroke="#f8d000" stroke-opacity="0.25" stroke-width="1.0" stroke-linecap="round" fill="none"/>
<path d="M312.4 197.0h0M317.0 219.2h0M362.9 205.8h0M395.5 215.5h0M361.7 233.8h0M313.4 241.4h0M296.8 259.1h0M332.4 239.8h0" stroke="#f8d000" stroke-opacity="0.75" stroke-width="1.8" stroke-linecap="round" fill="none"/>
<path d="M311.5 195.5h0M337.6 191.3h0M340.0 194.2h0M324.9 223.1h0M310.7 215.9h0M309.2 214.0h0M312.4 207.9h0M326.0 215.6h0M328.8 201.0h0M315.4 217.6h0M319.8 205.4h0M324.3 216.6h0M328.2 206.9h0M327.7 212.6h0M319.6 205.4h0M395.6 227.5h0M359.6 237.0h0M373.0 224.2h0M374.7 219.4h0M370.5 232.2h0M371.9 217.5h0M378.7 233.4h0M385.3 229.9h0M366.9 223.1h0M386.4 215.2h0M383.6 229.7h0M371.0 219.0h0M369.1 214.0h0M297.6 228.4h0M303.6 235.1h0M306.9 232.1h0M313.4 242.2h0M319.5 261.4h0M304.0 242.8h0M295.0 247.1h0M295.0 241.6h0M312.5 258.4h0M311.5 261.4h0M288.8 237.5h0M287.1 239.7h0M303.2 242.8h0M344.4 243.5h0M355.7 261.9h0M349.9 284.8h0M332.2 281.8h0M326.9 277.3h0M323.9 273.4h0M325.8 263.9h0M342.4 244.9h0M346.7 253.5h0M344.9 274.7h0M336.8 257.5h0M348.9 262.9h0M335.0 276.7h0M344.9 269.2h0" stroke="#70e020" stroke-opacity="0.25" stroke-width="1.0" stroke-linecap="round" fill="none"/>
<path d="M314.8 195.7h0M338.1 192.4h0M341.3 215.8h0M311.3 209.2h0M313.4 248.3h0M351.7 282.5h0M330.2 281.8h0" stroke="#ff8000" stroke-opacity="1.0" stroke-width="1.4" stroke-linecap="round" fill="none"/>
<path d="M313.9 193.5h0M333.9 219.7h0M330.6 221.3h0M308.6 205.5h0M360.3 207.4h0M362.0 228.5h0M360.5 222.6h0M296.6 231.0h0M278.9 239.4h0M277.2 231.9h0M328.7 241.5h0M342.9 238.2h0M344.7 239.0h0M348.9 246.1h0M354.3 272.3h0M354.5 279.8h0M337.1 282.0h0M331.0 284.5h0M334.8 277.8h0M329.2 279.9h0M325.9 254.8h0M323.9 247.6h0M325.2 249.2h0" stroke="#ff3000" stroke-opacity="0.25" stroke-width="1.4" stroke-linecap="round" fill="none"/>
<path d="M314.9 194.3h0M329.9 187.3h0M327.9 222.9h0M359.4 211.9h0M380.8 205.7h0M398.2 233.2h0M348.6 279.9h0" stroke="#f8d000" stroke-opacity="1.0" stroke-width="1.4" stroke-linecap="round" fill="none"/>
<path d="M315.2 192.7h0M317.0 189.1h0M324.8 187.3h0M331.7 221.9h0M330.0 222.3h0M328.1 221.1h0M322.7 219.6h0M313.8 214.1h0M309.6 213.9h0M312.7 202.8h0M335.6 200.7h0M321.3 215.0h0M327.8 217.5h0M325.5 209.2h0M312.2 202.5h0M328.8 192.8h0M321.1 217.9h0M331.2 203.1h0M333.8 204.8h0M318.3 204.5h0M332.8 198.0h0M331.7 199.0h0M326.2 200.0h0M329.6 194.7h0M312.1 202.0h0M331.8 212.9h0M334.6 206.0h0M318.6 197.8h0M330.0 212.6h0M322.0 193.9h0M359.0 211.7h0M361.4 212.3h0M395.3 218.8h0M395.8 220.0h0M398.3 230.7h0M376.9 241.1h0M376.3 239.9h0M376.0 242.8h0M371.7 240.2h0M366.0 240.4h0M358.0 220.5h0M381.3 233.8h0M372.1 209.9h0M360.9 216.8h0M372.2 236.5h0M388.5 215.8h0M385.2 227.1h0M384.7 227.5h0M378.3 213.5h0M375.5 211.9h0M369.3 218.4h0M278.3 229.5h0M284.4 230.1h0M290.0 226.3h0M299.7 230.0h0M302.7 234.7h0M310.0 237.7h0M313.5 260.8h0M315.8 265.0h0M303.3 265.6h0M295.0 255.2h0M286.1 251.3h0M282.2 250.2h0M308.8 243.3h0M298.8 240.1h0M305.1 249.7h0M306.5 260.9h0M312.3 253.1h0M300.8 238.8h0M299.3 257.8h0M299.8 238.6h0M298.4 254.3h0M294.7 237.0h0M300.5 252.5h0M293.5 249.7h0M339.7 238.5h0M345.4 240.6h0M353.3 249.4h0M351.3 252.8h0M355.4 256.1h0M342.1 288.1h0M340.5 282.0h0M353.4 273.2h0M344.0 266.1h0M349.4 249.2h0M337.6 269.9h0M346.7 251.8h0M338.5 270.8h0M336.7 260.8h0M332.5 248.4h0M341.7 268.8h0M346.6 276.6h0M337.1 271.7h0M348.1 263.6h0M333.5 260.2h0M332.6 245.3h0M356.4 263.5h0M353.1 261.6h0" stroke="#ff8000" stroke-opacity="0.25" stroke-width="1.0" stroke-linecap="round" fill="none"/>
<path d="M316.1 190.0h0M339.2 202.5h0M335.2 217.4h0M291.9 229.5h0M318.6 259.1h0M326.4 255.1h0M325.2 249.8h0" stroke="#70e020" stroke-opacity="0.75" stroke-width="1.8" stroke-linecap="round" fill="none"/>
<path d="M318.5 192.4h0M335.1 189.7h0M342.2 210.0h0M337.5 214.2h0M334.7 213.1h0M308.7 212.1h0M390.3 208.9h0M377.4 242.6h0M356.6 226.3h0M303.1 261.5h0M289.3 253.8h0M351.5 286.1h0M340.4 288.1h0" stroke="#ff8000" stroke-opacity="0.75" stroke-width="2.2" stroke-linecap="round" fill="none"/>
<path d="M319.2 189.0h0M323.8 187.8h0M315.4 220.5h0M373.7 201.2h0M389.2 207.5h0M298.9 228.2h0M305.3 263.2h0M296.8 257.4h0M327.2 265.3h0" stroke="#ff3000" stroke-opacity="0.5" stroke-width="1.4" stroke-linecap="round" fill="none"/>
<path d="M321.1 191.9h0M321.3 189.9h0M338.0 206.5h0M336.1 219.6h0M319.6 203.6h0M334.7 207.2h0M321.3 215.9h0M324.1 196.0h0M364.2 208.9h0M371.4 207.6h0M374.6 205.8h0M375.1 206.8h0M381.8 204.0h0M386.6 236.8h0M365.8 239.3h0M364.2 236.1h0M384.9 231.0h0M362.1 228.3h0M370.8 221.9h0M386.3 221.0h0M368.1 225.7h0M385.2 214.7h0M370.5 235.8h0M378.0 219.0h0M386.2 234.4h0M311.2 241.9h0M313.2 243.0h0M310.0 262.8h0M294.9 256.8h0M288.8 251.8h0M285.1 251.0h0M291.5 251.7h0M305.2 246.3h0M286.9 238.5h0M305.4 238.5h0M295.3 239.6h0M308.4 252.6h0M284.5 232.5h0M308.3 242.5h0M296.8 236.3h0M303.6 240.2h0M336.7 239.7h0M338.5 239.8h0M341.4 242.4h0M342.1 239.4h0M349.1 244.3h0M346.8 280.9h0M324.6 260.9h0M327.3 259.4h0M330.0 268.0h0M328.3 255.2h0M351.9 272.0h0M345.5 258.7h0M334.7 272.1h0" stroke="#ff3000" stroke-opacity="0.25" stroke-width="1.0" stroke-linecap="round" fill="none"/>
<path d="M322.1 189.2h0M325.0 186.7h0M326.2 184.6h0M335.9 213.7h0M314.4 217.2h0M308.5 209.8h0M312.3 205.6h0M307.8 203.8h0M361.1 208.1h0M390.7 208.0h0M395.2 210.8h0M395.7 217.6h0M390.5 234.3h0M393.4 238.1h0M389.3 239.2h0M374.2 245.1h0M311.8 239.8h0M313.1 242.3h0M316.2 245.3h0M315.7 248.1h0M315.1 248.1h0M318.5 252.3h0M314.2 251.7h0M317.6 254.3h0M318.4 261.0h0M318.1 263.6h0M309.1 264.6h0M281.1 245.5h0M282.5 241.6h0M345.4 242.5h0M351.5 247.1h0M356.6 264.0h0M358.4 268.5h0M335.5 284.0h0M328.7 251.9h0M328.4 241.5h0" stroke="#ff8000" stroke-opacity="0.25" stroke-width="1.4" stroke-linecap="round" fill="none"/>
<path d="M323.9 186.0h0M373.1 208.2h0M381.9 205.2h0M389.9 209.8h0M372.3 242.5h0M369.6 242.4h0M309.1 237.0h0" stroke="#ff3000" stroke-opacity="0.5" stroke-width="1.0" stroke-linecap="round" fill="none"/>
<path d="M325.8 185.1h0M339.5 193.1h0M307.6 212.5h0M311.3 200.2h0M392.1 241.6h0M388.4 241.1h0M380.3 241.8h0M374.7 244.4h0M280.5 231.5h0M293.5 225.5h0M357.0 270.5h0M357.9 276.7h0M331.4 279.6h0M324.7 256.9h0" stroke="#ff8000" stroke-opacity="0.5" stroke-width="1.4" stroke-linecap="round" fill="none"/>
<path d="M327.1 189.9h0M332.4 187.5h0M338.9 206.2h0M316.9 222.0h0M310.3 210.3h0M359.2 212.3h0M364.3 230.8h0M358.0 228.0h0M293.7 230.0h0M279.2 241.1h0M337.0 238.6h0M354.2 247.3h0M324.2 259.1h0" stroke="#f8d000" stroke-opacity="0.75" stroke-width="2.2" stroke-linecap="round" fill="none"/>
<path d="M330.2 187.4h0M312.9 218.9h0M309.2 207.9h0M374.0 205.9h0M371.9 240.0h0M299.2 262.7h0M359.2 258.9h0" stroke="#ff8000" stroke-opacity="0.5" stroke-width="2.2" stroke-linecap="round" fill="none"/>
<path d="M332.0 188.5h0M332.7 221.1h0M383.4 205.6h0M392.8 238.1h0M361.4 236.9h0M286.3 227.7h0M293.0 228.3h0M286.5 252.2h0M353.3 255.3h0" stroke="#ff3000" stroke-opacity="0.75" stroke-width="1.4" stroke-linecap="round" fill="none"/>
<path d="M333.5 187.5h0M342.3 199.8h0M316.7 220.7h0M310.5 213.4h0M359.3 211.1h0M356.1 217.6h0M303.1 262.5h0M276.7 237.2h0M348.2 283.4h0" stroke="#ff8000" stroke-opacity="0.5" stroke-width="1.0" stroke-linecap="round" fill="none"/>
<path d="M333.9 192.8h0M342.5 201.4h0M378.7 205.1h0M292.5 254.5h0M356.8 272.3h0M327.6 280.7h0" stroke="#ff3000" stroke-opacity="0.75" stroke-width="1.8" stroke-linecap="round" fill="none"/>
<path d="M335.1 192.8h0M318.2 257.4h0M360.0 265.7h0" stroke="#f8d000" stroke-opacity="1.0" stroke-width="2.2" stroke-linecap="round" fill="none"/>
<path d="M341.7 197.6h0M343.1 207.7h0M383.6 244.2h0M360.1 232.5h0M347.1 287.3h0M336.8 285.0h0" stroke="#f8d000" stroke-opacity="0.5" stroke-width="1.8" stroke-linecap="round" fill="none"/>
<path d="M340.5 201.1h0M379.3 202.5h0" stroke="#70e020" stroke-opacity="1.0" stroke-width="1.8" stroke-linecap="round" fill="none"/>
<path d="M343.1 200.8h0M308.3 203.5h0M300.4 257.7h0M327.1 275.4h0" stroke="#70e020" stroke-opacity="1.0" stroke-width="1.4" stroke-linecap="round" fill="none"/>
<path d="M342.4 204.3h0M321.7 223.1h0M309.1 203.3h0M366.8 206.3h0M374.3 241.5h0M369.9 241.1h0M353.4 221.8h0M355.5 214.5h0M311.2 237.1h0M353.0 246.0h0M334.1 285.7h0M327.1 271.6h0" stroke="#ff8000" stroke-opacity="1.0" stroke-width="1.8" stroke-linecap="round" fill="none"/>
<path d="M341.6 205.4h0" stroke="#ff3000" stroke-opacity="1.0" stroke-width="1.8" stroke-linecap="round" fill="none"/>
<path d="M337.7 206.9h0M310.7 216.8h0M391.1 209.8h0M398.1 238.0h0M392.7 240.0h0M386.4 240.8h0M365.5 240.0h0M361.9 228.0h0M285.3 233.0h0M314.1 244.0h0M302.0 261.9h0M358.6 253.3h0M328.1 268.2h0M326.5 245.0h0M326.3 242.7h0" stroke="#f8d000" stroke-opacity="0.5" stroke-width="1.4" stroke-linecap="round" fill="none"/>
<path d="M337.1 215.8h0M393.9 234.5h0M286.3 228.8h0M301.3 261.8h0M277.9 233.4h0M347.8 244.0h0M348.7 284.7h0" stroke="#ff8000" stroke-opacity="0.75" stroke-width="1.4" stroke-linecap="round" fill="none"/>
<path d="M335.1 216.1h0M318.4 223.0h0M312.4 216.8h0M371.7 209.3h0M388.3 234.8h0M389.8 241.1h0M301.8 228.4h0M317.4 263.7h0M359.6 255.6h0M353.8 269.7h0" stroke="#f8d000" stroke-opacity="0.5" stroke-width="1.0" stroke-linecap="round" fill="none"/>
<path d="M334.4 218.9h0M326.3 222.4h0M383.3 206.9h0M299.3 262.8h0M284.8 246.5h0" stroke="#70e020" stroke-opacity="0.75" stroke-width="1.4" stroke-linecap="round" fill="none"/>
<path d="M331.0 217.3h0M278.4 232.6h0" stroke="#ff3000" stroke-opacity="1.0" stroke-width="2.2" stroke-linecap="round" fill="none"/>
<path d="M329.5 218.0h0M397.4 214.1h0M362.5 231.0h0M303.9 234.5h0M309.5 261.5h0M305.7 261.7h0" stroke="#70e020" stroke-opacity="0.5" stroke-width="1.4" stroke-linecap="round" fill="none"/>
<path d="M324.5 220.8h0M316.5 221.2h0M384.8 243.6h0M357.2 228.1h0M315.3 263.1h0M286.5 250.5h0M358.7 273.5h0M355.2 276.6h0M336.1 281.2h0M329.0 246.3h0" stroke="#ff3000" stroke-opacity="0.75" stroke-width="2.2" stroke-linecap="round" fill="none"/>
<path d="M315.2 219.3h0M385.9 240.5h0M358.9 220.9h0M316.5 246.8h0" stroke="#f8d000" stroke-opacity="0.5" stroke-width="2.2" stroke-linecap="round" fill="none"/>
<path d="M311.6 219.6h0M297.7 257.6h0" stroke="#f8d000" stroke-opacity="1.0" stroke-width="1.8" stroke-linecap="round" fill="none"/>
<path d="M309.3 200.0h0M393.4 212.8h0M291.5 229.5h0M305.5 231.6h0M356.3 267.8h0M356.7 279.3h0M345.7 288.6h0M324.9 273.5h0" stroke="#ff8000" stroke-opacity="0.75" stroke-width="1.8" stroke-linecap="round" fill="none"/>
<path d="M326.1 208.6h0M381.6 233.4h0M389.5 218.7h0M292.7 250.3h0M348.5 256.6h0" stroke="#f8d000" stroke-opacity="0.15" stroke-width="1.0" stroke-linecap="round" fill="none"/>
<path d="M324.9 201.3h0M327.6 195.6h0M381.4 242.8h0M393.1 218.2h0M362.6 224.9h0M335.7 271.7h0M343.7 269.0h0" stroke="#ff8000" stroke-opacity="0.15" stroke-width="1.0" stroke-linecap="round" fill="none"/>
<path d="M328.6 211.6h0M359.5 209.6h0M295.4 249.0h0M355.0 250.3h0M345.5 244.5h0" stroke="#ff3000" stroke-opacity="0.15" stroke-width="1.0" stroke-linecap="round" fill="none"/>
<path d="M361.4 206.8h0M318.0 256.9h0M350.3 241.5h0" stroke="#ff3000" stroke-opacity="1.0" stroke-width="1.4" stroke-linecap="round" fill="none"/>
<path d="M398.1 234.7h0M315.1 253.5h0M288.1 254.6h0M357.2 269.8h0M327.0 265.3h0" stroke="#f8d000" stroke-opacity="0.75" stroke-width="1.4" stroke-linecap="round" fill="none"/>
<path d="M384.1 238.7h0M356.4 224.2h0M296.8 232.2h0M311.3 244.2h0M291.5 254.4h0M288.4 254.4h0M357.6 262.0h0" stroke="#70e020" stroke-opacity="0.75" stroke-width="2.2" stroke-linecap="round" fill="none"/>
<path d="M382.8 244.4h0M323.8 274.4h0" stroke="#70e020" stroke-opacity="0.5" stroke-width="1.8" stroke-linecap="round" fill="none"/>
<path d="M380.9 244.5h0" stroke="#ff3000" stroke-opacity="0.5" stroke-width="1.8" stroke-linecap="round" fill="none"/>
<path d="M368.3 239.6h0M283.9 246.1h0" stroke="#ff8000" stroke-opacity="1.0" stroke-width="2.2" stroke-linecap="round" fill="none"/>
<path d="M362.8 238.6h0M281.9 249.7h0M277.8 234.5h0" stroke="#70e020" stroke-opacity="1.0" stroke-width="2.2" stroke-linecap="round" fill="none"/>
<path d="M299.3 231.4h0M315.4 250.1h0M355.4 262.6h0M357.1 284.4h0M334.0 283.9h0" stroke="#ff8000" stroke-opacity="0.5" stroke-width="1.8" stroke-linecap="round" fill="none"/>
<path d="M309.1 234.6h0M304.7 259.6h0" stroke="#70e020" stroke-opacity="0.15" stroke-width="1.0" stroke-linecap="round" fill="none"/>
<path d="M313.6 264.8h0M314.8 266.8h0M357.2 251.8h0" stroke="#70e020" stroke-opacity="0.5" stroke-width="1.0" stroke-linecap="round" fill="none"/>
<path d="M356.9 281.7h0" stroke="#ff8000" stroke-opacity="0.15" stroke-width="1.4" stroke-linecap="round" fill="none"/>
</g>
<text x="27.0" y="292.4" font-size="14" fill="#22c35a" font-weight="bold" text-anchor="start" textLength="54" lengthAdjust="spacingAndGlyphs">anti-TfR</text>
<text x="152.3" y="291.3" font-size="14.5" fill="#ff1a1a" font-weight="bold" text-anchor="start" textLength="42.5" lengthAdjust="spacingAndGlyphs">HG1-9</text>
<text x="277.2" y="291.3" font-size="14.5" fill="#ffff00" font-weight="bold" text-anchor="start" textLength="41.5" lengthAdjust="spacingAndGlyphs">Merge</text>
<rect x="374.5" y="289.7" width="20.7" height="1.6" fill="#d8d8d8"/>
<foreignObject x="400.5" y="173" width="134.2" height="124"><div style="width:134.2px;height:124px;background:radial-gradient(circle at 3px 121px, rgba(255,220,0,0.85) 0px, rgba(255,200,0,0.3) 5px, rgba(255,200,0,0) 10px),conic-gradient(from 0deg at 3px 121px, rgba(0,0,0,0.9) 0deg, rgba(0,0,0,0.6) 5deg, rgba(0,0,0,0.35) 10deg, rgba(0,0,0,0.12) 18deg, rgba(0,0,0,0) 26deg, rgba(0,0,0,0) 48deg, rgba(0,0,0,0.2) 60deg, rgba(0,0,0,0.45) 72deg, rgba(0,0,0,0.65) 85deg, rgba(0,0,0,0.7) 90deg, rgba(0,0,0,0.7) 360deg),radial-gradient(circle at 3px 121px, rgba(0,0,0,0) 0px, rgba(0,0,0,0.08) 30px, rgba(0,0,0,0.28) 55px, rgba(0,0,0,0.58) 85px, rgba(0,0,0,0.8) 115px, rgba(0,0,0,0.92) 160px),conic-gradient(from 0deg at 3px 121px, #d82800 0deg, #d83800 12deg, #d04c00 22deg, #c46600 31deg, #b08400 40deg, #909400 49deg, #6c9c00 58deg, #489800 70deg, #309000 90deg, #309000 360deg);"></div></foreignObject>
<rect x="403" y="173" width="131.7" height="120.5" fill="#000" filter="url(#grain)"/>
<rect x="400.5" y="173" width="2.3" height="122" fill="#d82828"/>
<rect x="401.5" y="293.8" width="133" height="1.7" fill="#20d020"/>
<text x="423.5" y="187.5" font-size="13" fill="#fff" font-weight="bold" text-anchor="start" textLength="54" lengthAdjust="spacingAndGlyphs">Person’s</text>
<text x="412.2" y="203.3" font-size="13" fill="#fff" font-weight="bold" text-anchor="start" textLength="106.5" lengthAdjust="spacingAndGlyphs">Coefficient : 0.69</text>
<text x="12.2" y="331" font-size="24" fill="#000" font-weight="bold" text-anchor="start">D</text>
<text transform="translate(74.2,375.1) rotate(-90)" font-size="6.9" fill="#1a1a1a" font-weight="bold" text-anchor="middle" textLength="118" lengthAdjust="spacingAndGlyphs" stroke="#1a1a1a" stroke-width="0.25">Relative Fluorescence Intensity</text>
<line x1="86.3" y1="318.2" x2="86.3" y2="433.2" stroke="#111" stroke-width="1.15"/>
<line x1="85.8" y1="432.7" x2="233.6" y2="432.7" stroke="#111" stroke-width="1.15"/>
<line x1="84.3" y1="432.7" x2="86.3" y2="432.7" stroke="#222" stroke-width="0.9"/>
<text x="84.0" y="435.2" font-size="7" fill="#222" font-weight="bold" text-anchor="end" stroke="#222" stroke-width="0.2">0</text>
<line x1="84.8" y1="415.34999999999997" x2="86.3" y2="415.34999999999997" stroke="#444" stroke-width="0.7"/>
<line x1="84.3" y1="398.0" x2="86.3" y2="398.0" stroke="#222" stroke-width="0.9"/>
<text x="84.0" y="400.5" font-size="7" fill="#222" font-weight="bold" text-anchor="end" stroke="#222" stroke-width="0.2">1</text>
<line x1="84.8" y1="380.65" x2="86.3" y2="380.65" stroke="#444" stroke-width="0.7"/>
<line x1="84.3" y1="363.29999999999995" x2="86.3" y2="363.29999999999995" stroke="#222" stroke-width="0.9"/>
<text x="84.0" y="365.79999999999995" font-size="7" fill="#222" font-weight="bold" text-anchor="end" stroke="#222" stroke-width="0.2">2</text>
<line x1="84.8" y1="345.95" x2="86.3" y2="345.95" stroke="#444" stroke-width="0.7"/>
<line x1="84.3" y1="328.59999999999997" x2="86.3" y2="328.59999999999997" stroke="#222" stroke-width="0.9"/>
<text x="84.0" y="331.09999999999997" font-size="7" fill="#222" font-weight="bold" text-anchor="end" stroke="#222" stroke-width="0.2">3</text>
<rect x="88.3" y="424.025" width="17.10000000000001" height="8.675000000000011" fill="#000" stroke="#111" stroke-width="0.9"/>
<line x1="96.85" y1="418.8" x2="96.85" y2="432.7" stroke="#111" stroke-width="1"/>
<line x1="95.55" y1="418.8" x2="98.14999999999999" y2="418.8" stroke="#111" stroke-width="1"/>
<line x1="95.55" y1="432.7" x2="98.14999999999999" y2="432.7" stroke="#111" stroke-width="1"/>
<rect x="108.7" y="423.678" width="17.599999999999994" height="9.021999999999991" fill="#bbb" stroke="#111" stroke-width="0.9"/>
<line x1="117.5" y1="422.3" x2="117.5" y2="424.5" stroke="#111" stroke-width="1"/>
<line x1="116.2" y1="422.3" x2="118.8" y2="422.3" stroke="#111" stroke-width="1"/>
<line x1="116.2" y1="424.5" x2="118.8" y2="424.5" stroke="#111" stroke-width="1"/>
<rect x="130.7" y="426.10699999999997" width="17.100000000000023" height="6.593000000000018" fill="#fff" stroke="#111" stroke-width="0.9"/>
<line x1="139.25" y1="425.2" x2="139.25" y2="427" stroke="#111" stroke-width="1"/>
<line x1="137.95" y1="425.2" x2="140.55" y2="425.2" stroke="#111" stroke-width="1"/>
<line x1="137.95" y1="427" x2="140.55" y2="427" stroke="#111" stroke-width="1"/>
<rect x="172.3" y="332.764" width="17.399999999999977" height="99.93599999999998" fill="#000" stroke="#111" stroke-width="0.9"/>
<line x1="181.0" y1="325.2" x2="181.0" y2="340" stroke="#111" stroke-width="1"/>
<line x1="179.7" y1="325.2" x2="182.3" y2="325.2" stroke="#111" stroke-width="1"/>
<line x1="179.7" y1="340" x2="182.3" y2="340" stroke="#111" stroke-width="1"/>
<rect x="193.4" y="367.464" width="16.900000000000006" height="65.23599999999999" fill="#bbb" stroke="#111" stroke-width="0.9"/>
<line x1="201.85000000000002" y1="358.2" x2="201.85000000000002" y2="377.7" stroke="#111" stroke-width="1"/>
<line x1="200.55" y1="358.2" x2="203.15000000000003" y2="358.2" stroke="#111" stroke-width="1"/>
<line x1="200.55" y1="377.7" x2="203.15000000000003" y2="377.7" stroke="#111" stroke-width="1"/>
<rect x="214.4" y="409.104" width="16.900000000000006" height="23.596000000000004" fill="#fff" stroke="#111" stroke-width="0.9"/>
<line x1="222.85000000000002" y1="406" x2="222.85000000000002" y2="412.7" stroke="#111" stroke-width="1"/>
<line x1="221.55" y1="406" x2="224.15000000000003" y2="406" stroke="#111" stroke-width="1"/>
<line x1="221.55" y1="412.7" x2="224.15000000000003" y2="412.7" stroke="#111" stroke-width="1"/>
<line x1="118" y1="432.7" x2="118" y2="434.7" stroke="#222" stroke-width="0.8"/>
<text x="94.3" y="453.5" font-size="16.5" fill="#000" font-weight="bold" text-anchor="start" textLength="48.5" lengthAdjust="spacingAndGlyphs">ctr sq</text>
<line x1="202.2" y1="432.7" x2="202.2" y2="434.7" stroke="#222" stroke-width="0.8"/>
<text x="174.6" y="453.5" font-size="16.5" fill="#000" font-weight="bold" text-anchor="start" textLength="52" lengthAdjust="spacingAndGlyphs">HG1-9</text>
<line x1="198.8" y1="353.8" x2="223.3" y2="353.8" stroke="#222" stroke-width="1"/>
<text x="207.8" y="353.3" font-size="9" fill="#222" font-weight="bold" text-anchor="start" textLength="5.5" lengthAdjust="spacingAndGlyphs">*</text>
<text transform="translate(261.8,374.9) rotate(-90)" font-size="6.9" fill="#1a1a1a" font-weight="bold" text-anchor="middle" textLength="119" lengthAdjust="spacingAndGlyphs" stroke="#1a1a1a" stroke-width="0.25">Relative Fluorescence Intensity</text>
<line x1="273.35" y1="317.8" x2="273.35" y2="433.2" stroke="#111" stroke-width="1.15"/>
<line x1="272.85" y1="432.7" x2="420.9" y2="432.7" stroke="#111" stroke-width="1.15"/>
<line x1="271.35" y1="432.7" x2="273.35" y2="432.7" stroke="#222" stroke-width="0.9"/>
<text x="271.05" y="435.2" font-size="7" fill="#222" font-weight="bold" text-anchor="end" stroke="#222" stroke-width="0.2">0</text>
<line x1="271.85" y1="415.59999999999997" x2="273.35" y2="415.59999999999997" stroke="#444" stroke-width="0.7"/>
<line x1="271.35" y1="398.5" x2="273.35" y2="398.5" stroke="#222" stroke-width="0.9"/>
<text x="271.05" y="401.0" font-size="7" fill="#222" font-weight="bold" text-anchor="end" stroke="#222" stroke-width="0.2">3</text>
<line x1="271.85" y1="381.4" x2="273.35" y2="381.4" stroke="#444" stroke-width="0.7"/>
<line x1="271.35" y1="364.29999999999995" x2="273.35" y2="364.29999999999995" stroke="#222" stroke-width="0.9"/>
<text x="271.05" y="366.79999999999995" font-size="7" fill="#222" font-weight="bold" text-anchor="end" stroke="#222" stroke-width="0.2">6</text>
<line x1="271.85" y1="347.2" x2="273.35" y2="347.2" stroke="#444" stroke-width="0.7"/>
<line x1="271.35" y1="330.09999999999997" x2="273.35" y2="330.09999999999997" stroke="#222" stroke-width="0.9"/>
<text x="271.05" y="332.59999999999997" font-size="7" fill="#222" font-weight="bold" text-anchor="end" stroke="#222" stroke-width="0.2">9</text>
<rect x="275.5" y="409.558" width="17.19999999999999" height="23.141999999999996" fill="#000" stroke="#111" stroke-width="0.9"/>
<line x1="284.1" y1="408.2" x2="284.1" y2="410.5" stroke="#111" stroke-width="1"/>
<line x1="282.8" y1="408.2" x2="285.40000000000003" y2="408.2" stroke="#111" stroke-width="1"/>
<line x1="282.8" y1="410.5" x2="285.40000000000003" y2="410.5" stroke="#111" stroke-width="1"/>
<rect x="296.4" y="411.268" width="17.200000000000045" height="21.432000000000016" fill="#bbb" stroke="#111" stroke-width="0.9"/>
<line x1="305.0" y1="409" x2="305.0" y2="413.6" stroke="#111" stroke-width="1"/>
<line x1="303.7" y1="409" x2="306.3" y2="409" stroke="#111" stroke-width="1"/>
<line x1="303.7" y1="413.6" x2="306.3" y2="413.6" stroke="#111" stroke-width="1"/>
<rect x="317.3" y="405.34" width="17.599999999999966" height="27.360000000000014" fill="#fff" stroke="#111" stroke-width="0.9"/>
<line x1="326.1" y1="404.8" x2="326.1" y2="406.5" stroke="#111" stroke-width="1"/>
<line x1="324.8" y1="404.8" x2="327.40000000000003" y2="404.8" stroke="#111" stroke-width="1"/>
<line x1="324.8" y1="406.5" x2="327.40000000000003" y2="406.5" stroke="#111" stroke-width="1"/>
<rect x="359.3" y="341.044" width="17.899999999999977" height="91.656" fill="#000" stroke="#111" stroke-width="0.9"/>
<line x1="368.25" y1="324.1" x2="368.25" y2="345" stroke="#111" stroke-width="1"/>
<line x1="366.95" y1="324.1" x2="369.55" y2="324.1" stroke="#111" stroke-width="1"/>
<line x1="366.95" y1="345" x2="369.55" y2="345" stroke="#111" stroke-width="1"/>
<rect x="380.4" y="359.74" width="17.5" height="72.95999999999998" fill="#bbb" stroke="#111" stroke-width="0.9"/>
<line x1="389.15" y1="356.9" x2="389.15" y2="363.7" stroke="#111" stroke-width="1"/>
<line x1="387.84999999999997" y1="356.9" x2="390.45" y2="356.9" stroke="#111" stroke-width="1"/>
<line x1="387.84999999999997" y1="363.7" x2="390.45" y2="363.7" stroke="#111" stroke-width="1"/>
<rect x="401.3" y="401.34999999999997" width="17.19999999999999" height="31.350000000000023" fill="#fff" stroke="#111" stroke-width="0.9"/>
<line x1="409.9" y1="397.3" x2="409.9" y2="405.5" stroke="#111" stroke-width="1"/>
<line x1="408.59999999999997" y1="397.3" x2="411.2" y2="397.3" stroke="#111" stroke-width="1"/>
<line x1="408.59999999999997" y1="405.5" x2="411.2" y2="405.5" stroke="#111" stroke-width="1"/>
<line x1="304.5" y1="432.7" x2="304.5" y2="434.7" stroke="#222" stroke-width="0.8"/>
<text x="294" y="453.5" font-size="16.5" fill="#000" font-weight="bold" text-anchor="start" textLength="30" lengthAdjust="spacingAndGlyphs">IgG</text>
<line x1="389.1" y1="432.7" x2="389.1" y2="434.7" stroke="#222" stroke-width="0.8"/>
<text x="350.5" y="453.5" font-size="16.5" fill="#000" font-weight="bold" text-anchor="start" textLength="67.5" lengthAdjust="spacingAndGlyphs">anti-TfR</text>
<line x1="387.9" y1="353.4" x2="412.9" y2="353.4" stroke="#222" stroke-width="1"/>
<text x="394.5" y="352.9" font-size="9" fill="#222" font-weight="bold" text-anchor="start" textLength="12" lengthAdjust="spacingAndGlyphs">**</text>
<rect x="97.4" y="326.6" width="13.8" height="7" fill="#000" stroke="#000" stroke-width="0.8"/>
<rect x="96.3" y="341.6" width="13.4" height="7.1" fill="#bbb" stroke="#777" stroke-width="0.8"/>
<rect x="96.3" y="357.2" width="13.4" height="7" fill="#fff" stroke="#777" stroke-width="0.8"/>
<text x="113.8" y="334.6" font-size="10.6" fill="#111" font-weight="bold" text-anchor="start" textLength="38" lengthAdjust="spacingAndGlyphs">control</text>
<text x="113.6" y="348.7" font-size="10.6" fill="#111" font-weight="bold" text-anchor="start" textLength="29" lengthAdjust="spacingAndGlyphs">si-NC</text>
<text x="113.6" y="364.2" font-size="10.6" fill="#111" font-weight="bold" text-anchor="start" textLength="31.5" lengthAdjust="spacingAndGlyphs">si-TfR</text>
</svg>
</body></html>
